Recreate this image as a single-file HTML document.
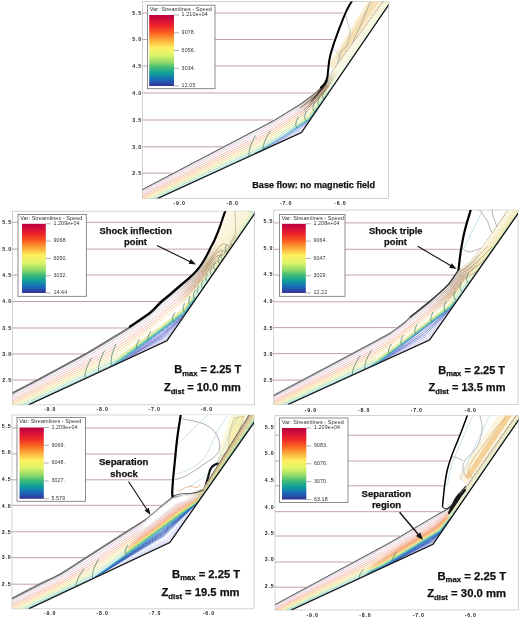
<!DOCTYPE html>
<html><head><meta charset="utf-8"><style>
html,body{margin:0;padding:0;background:#fff;width:520px;height:618px;overflow:hidden;}
svg{display:block;}
.tk{font-family:"Liberation Sans",sans-serif;font-weight:bold;font-size:5.2px;fill:#222;letter-spacing:0.8px;}
.lt{font-family:"Liberation Sans",sans-serif;font-size:5.5px;fill:#333;letter-spacing:0.05px;}
.cl{font-family:"Liberation Sans",sans-serif;font-size:5.3px;fill:#333;letter-spacing:0.12px;}
.ann{font-family:"Liberation Sans",sans-serif;font-weight:bold;fill:#111;stroke:#111;stroke-width:0.25px;}
</style></head><body>
<svg width="520" height="618" viewBox="0 0 520 618">
<defs><linearGradient id="spec" x1="0" y1="0" x2="0" y2="1"><stop offset="0.000" stop-color="#b80040"/><stop offset="0.080" stop-color="#d8103a"/><stop offset="0.160" stop-color="#f02828"/><stop offset="0.250" stop-color="#fa6020"/><stop offset="0.350" stop-color="#fca838"/><stop offset="0.460" stop-color="#fef060"/><stop offset="0.560" stop-color="#e0f468"/><stop offset="0.660" stop-color="#98dc68"/><stop offset="0.740" stop-color="#40bc78"/><stop offset="0.820" stop-color="#10a098"/><stop offset="0.900" stop-color="#1870b8"/><stop offset="0.960" stop-color="#2848a8"/><stop offset="1.000" stop-color="#3a3090"/></linearGradient></defs>
<clipPath id="bT"><polygon points="122.5,188.8 142.5,188.8 200.0,158.5 273.3,120.0 300.0,103.5 314.6,93.0 322.0,86.0 326.0,81.0 327.2,72.0 329.0,58.0 333.0,40.0 340.0,20.0 344.0,12.0 351.5,1.5 351.5,-18.5 408.5,-18.5 408.5,218.5 122.5,218.5"/></clipPath>
<clipPath id="bpT"><polygon points="120.0,216.2 262.0,150.6 310.0,120.0 398.9,-10.0 393.0,-12.0 342.0,58.0 330.0,74.0 324.0,84.0 320.0,88.0 314.6,93.0 300.0,103.5 273.3,120.0 200.0,158.5 142.5,188.8 120.0,200.5"/></clipPath>
<clipPath id="fT"><polygon points="120.0,216.2 301.5,132.5 398.9,-10.0 418.5,-40.0 418.5,-38.5 102.5,-38.5 102.5,216.2"/></clipPath>
<filter id="sbT" x="-20%" y="-20%" width="140%" height="140%"><feGaussianBlur stdDeviation="1.6"/></filter>
<mask id="sT" maskUnits="userSpaceOnUse" x="0" y="0" width="520" height="618"><polygon points="250.0,160.0 262.0,148.0 285.0,136.0 305.0,118.0 315.0,104.0 330.0,110.0 300.0,150.0 260.0,165.0" fill="#fff" filter="url(#sbT)"/></mask>
<linearGradient id="zgT0" gradientUnits="userSpaceOnUse" x1="320.0" y1="90.0" x2="328.0" y2="80.0"><stop offset="0" stop-color="#000"/><stop offset="1" stop-color="#fff"/></linearGradient>
<mask id="zmT0" maskUnits="userSpaceOnUse" x="0" y="0" width="520" height="618"><rect x="0" y="0" width="520" height="618" fill="url(#zgT0)"/></mask>
<radialGradient id="rgT0" gradientUnits="userSpaceOnUse" cx="318.0" cy="95.0" r="30.0"><stop offset="0.3" stop-color="#fff"/><stop offset="1" stop-color="#000"/></radialGradient>
<mask id="rmT0" maskUnits="userSpaceOnUse" x="0" y="0" width="520" height="618"><rect x="0" y="0" width="520" height="618" fill="url(#rgT0)"/></mask>
<clipPath id="cT"><rect x="142.5" y="1.5" width="246.0" height="197.0"/></clipPath>
<rect x="142.5" y="1.5" width="246.0" height="197.0" fill="none" stroke="#c8c8c8" stroke-width="0.8"/>
<text x="141.9" y="14.9" class="tk" text-anchor="end">5.5</text>
<line x1="140.5" y1="13.0" x2="142.5" y2="13.0" stroke="#b0b0b0" stroke-width="0.6"/>
<text x="141.9" y="41.4" class="tk" text-anchor="end">5.0</text>
<line x1="140.5" y1="39.5" x2="142.5" y2="39.5" stroke="#b0b0b0" stroke-width="0.6"/>
<text x="141.9" y="67.9" class="tk" text-anchor="end">4.5</text>
<line x1="140.5" y1="66.0" x2="142.5" y2="66.0" stroke="#b0b0b0" stroke-width="0.6"/>
<text x="141.9" y="94.9" class="tk" text-anchor="end">4.0</text>
<line x1="140.5" y1="93.0" x2="142.5" y2="93.0" stroke="#b0b0b0" stroke-width="0.6"/>
<text x="141.9" y="121.9" class="tk" text-anchor="end">3.5</text>
<line x1="140.5" y1="120.0" x2="142.5" y2="120.0" stroke="#b0b0b0" stroke-width="0.6"/>
<text x="141.9" y="148.7" class="tk" text-anchor="end">3.0</text>
<line x1="140.5" y1="146.8" x2="142.5" y2="146.8" stroke="#b0b0b0" stroke-width="0.6"/>
<text x="141.9" y="175.2" class="tk" text-anchor="end">2.5</text>
<line x1="140.5" y1="173.2" x2="142.5" y2="173.2" stroke="#b0b0b0" stroke-width="0.6"/>
<text x="179.5" y="204.8" class="tk" text-anchor="middle">-9.0</text>
<text x="232.5" y="204.8" class="tk" text-anchor="middle">-8.0</text>
<text x="286.0" y="204.8" class="tk" text-anchor="middle">-7.0</text>
<text x="340.4" y="204.8" class="tk" text-anchor="middle">-6.0</text>
<g clip-path="url(#cT)">
<line x1="142.5" y1="13.0" x2="343.5" y2="13.0" stroke="#c09ca8" stroke-width="0.95"/>
<line x1="142.5" y1="39.5" x2="333.2" y2="39.5" stroke="#c09ca8" stroke-width="0.95"/>
<line x1="142.5" y1="66.0" x2="328.0" y2="66.0" stroke="#c09ca8" stroke-width="0.95"/>
<line x1="142.5" y1="93.0" x2="314.6" y2="93.0" stroke="#c09ca8" stroke-width="0.95"/>
<line x1="142.5" y1="120.0" x2="273.3" y2="120.0" stroke="#c09ca8" stroke-width="0.95"/>
<line x1="142.5" y1="146.8" x2="222.4" y2="146.8" stroke="#c09ca8" stroke-width="0.95"/>
<line x1="142.5" y1="173.2" x2="172.0" y2="173.2" stroke="#c09ca8" stroke-width="0.95"/>
<g clip-path="url(#fT)"><g clip-path="url(#bT)">
<polygon points="336.4,70.8 386.0,-3.5 375.3,-10.9 328.1,65.2" fill="#fbeccc" opacity="0.90"/>
<polygon points="340.1,60.1 383.5,-5.2 377.7,-9.2 336.0,57.3" fill="#f0d49c" opacity="0.60"/>
<polyline points="370.4,1 362,22 352,44 348,55 344,68 338,80" fill="none" stroke="#9a9a90" stroke-width="0.7"/>
<polyline points="345.8,16 350.4,32 347.3,46 341,51 338,62 333,72" fill="none" stroke="#a0a0a0" stroke-width="0.6"/>
<polyline points="333.5,49 338.8,53.8 339.5,62 334,72" fill="none" stroke="#9cc9d9" stroke-width="0.6"/>
<path d="M396.0,-6.2 L330.5,89.3 L309.2,119.5 L261.5,149.7 L140.5,206.0" fill="none" stroke="#6ec3c9" stroke-width="0.90"/>
<path d="M395.5,-6.5 L330.0,88.7 L308.0,118.2 L260.5,148.0 L137.3,206.0" fill="none" stroke="#9dd9b6" stroke-width="0.90"/>
<path d="M394.8,-6.5 L329.1,88.5 L320.5,100.0 L307.0,116.7 L259.5,146.3 L134.5,205.8" fill="none" stroke="#cee8a1" stroke-width="0.90"/>
<path d="M394.2,-6.5 L335.5,77.5 L328.5,88.0 L319.5,99.5 L305.7,115.5 L280.0,131.7 L258.5,144.6 L134.5,204.4" fill="none" stroke="#efe595" stroke-width="0.90"/>
<path d="M393.5,-6.5 L334.8,77.0 L328.0,87.4 L319.0,98.4 L304.5,114.2 L279.0,130.3 L257.5,143.0 L134.5,202.9" fill="none" stroke="#f8d390" stroke-width="0.90"/>
<path d="M392.8,-6.5 L334.1,76.5 L327.5,86.7 L318.4,97.5 L303.2,113.0 L278.5,128.5 L256.5,141.3 L134.5,201.4" fill="none" stroke="#f7c292" stroke-width="0.90"/>
<path d="M392.1,-6.5 L333.4,76.0 L326.7,86.5 L317.5,96.9 L302.0,111.7 L277.5,127.0 L256.0,139.3 L134.5,199.9" fill="none" stroke="#f4b9a2" stroke-width="0.90"/>
<path d="M391.5,-6.5 L332.7,75.5 L326.0,86.0 L317.0,95.9 L301.0,110.2 L276.5,125.6 L255.0,137.6 L134.5,198.4" fill="none" stroke="#f0c3c2" stroke-width="0.90"/>
<path d="M390.8,-6.5 L332.0,75.0 L325.5,85.4 L316.4,95.0 L302.3,107.0 L299.0,109.5 L275.6,124.0 L254.0,135.9 L134.5,196.9" fill="none" stroke="#edd2dc" stroke-width="0.90"/>
<path d="M390.1,-6.5 L331.3,74.5 L325.0,84.8 L315.5,94.4 L301.6,105.5 L274.7,122.5 L253.4,134.0 L134.5,195.4" fill="none" stroke="#d9c9d8" stroke-width="0.90"/>
<path d="M389.4,-6.5 L330.6,74.0 L324.5,84.1 L315.0,93.5 L300.5,104.3 L273.7,121.0 L134.5,193.9" fill="none" stroke="#969696" stroke-width="0.90"/>
<path d="M389.5,-6.5 L330.7,74.0 L324.5,84.2 L315.0,93.6 L300.5,104.4 L273.9,121.0 L134.5,193.9" fill="none" stroke="#7a7a7a" stroke-width="0.70"/>
<path d="M389.2,-6.5 L342.5,58.0 L330.5,73.7 L324.5,84.0 L314.5,93.5 L300.0,104.0 L273.5,120.5 L134.5,193.4" fill="none" stroke="#5a5a5a" stroke-width="0.80"/>
<path d="M311.8,121.2 L310.2,120.2 L309.4,120.8 L301.0,132.2 L262.2,150.5 L263.0,152.5" fill="none" stroke="#c4c8ee" stroke-width="0.80"/>
<path d="M311.8,121.2 L309.8,120.2 L300.5,131.5 L262.2,150.4 L262.2,151.0 L262.9,152.5" fill="none" stroke="#cbcff0" stroke-width="0.80"/>
<path d="M311.8,121.1 L310.2,120.1 L309.8,120.2 L300.0,130.8 L262.2,150.4 L262.1,151.0 L262.9,152.5" fill="none" stroke="#d3d7f4" stroke-width="0.80"/>
<path d="M311.8,121.1 L310.2,120.1 L309.8,120.2 L299.2,130.2 L262.2,150.4 L262.1,151.0 L262.9,152.5" fill="none" stroke="#bbc7ed" stroke-width="0.80"/>
<path d="M311.8,121.1 L310.2,120.1 L309.8,120.2 L298.8,129.4 L262.2,150.3 L262.1,151.0 L262.8,152.5" fill="none" stroke="#9db3e5" stroke-width="0.80"/>
<path d="M311.8,121.1 L310.2,120.1 L309.8,120.1 L298.2,128.7 L262.2,150.3 L262.1,151.0 L262.8,152.5" fill="none" stroke="#8ba6df" stroke-width="0.80"/>
<path d="M311.8,121.0 L309.8,120.1 L287.2,134.7 L262.2,150.3 L262.0,151.0 L262.8,152.5" fill="none" stroke="#7b9ad9" stroke-width="0.80"/>
<g clip-path="url(#bpT)"><g mask="url(#sT)">
<rect x="0" y="0" width="520" height="618" fill="#fff"/>
<path d="M396.0,-6.0 L309.5,120.0 L261.6,150.5 L141.6,206.0" fill="none" stroke="#5895cc" stroke-width="1.00"/>
<path d="M396.0,-6.2 L330.5,89.4 L309.4,119.5 L261.5,149.9 L140.7,206.0" fill="none" stroke="#50a7cc" stroke-width="1.00"/>
<path d="M396.0,-6.4 L330.5,89.1 L309.0,119.2 L261.1,149.5 L139.8,206.0" fill="none" stroke="#5dbac7" stroke-width="1.00"/>
<path d="M395.9,-6.5 L330.0,89.4 L308.5,119.0 L261.0,149.0 L139.0,206.0" fill="none" stroke="#7fccbd" stroke-width="1.00"/>
<path d="M395.7,-6.5 L330.0,89.0 L308.3,118.5 L260.7,148.5 L138.1,206.0" fill="none" stroke="#a1dbb5" stroke-width="1.00"/>
<path d="M395.5,-6.5 L330.0,88.6 L308.0,118.1 L260.5,148.0 L137.2,206.0" fill="none" stroke="#c3e6ae" stroke-width="1.00"/>
<path d="M395.3,-6.5 L329.5,88.9 L307.5,117.9 L260.2,147.5 L136.3,206.0" fill="none" stroke="#e3f0a8" stroke-width="1.00"/>
<path d="M395.1,-6.5 L329.5,88.6 L307.5,117.2 L260.0,147.0 L135.5,206.0" fill="none" stroke="#ececa6" stroke-width="1.00"/>
<path d="M394.9,-6.5 L329.3,88.5 L320.5,100.2 L307.0,117.0 L259.5,146.6 L134.6,206.0" fill="none" stroke="#f5e9a4" stroke-width="1.00"/>
</g></g>
<g clip-path="url(#bpT)"><g mask="url(#zmT0)">
<rect x="0" y="0" width="520" height="618" fill="#ffffff"/>
<path d="M395.8,-6.5 L330.0,89.2 L308.5,118.7 L261.0,148.6 L138.5,206.0" fill="none" stroke="#bbe3c0" stroke-width="0.80"/>
<path d="M394.3,-6.5 L335.6,77.5 L328.7,88.0 L319.7,99.5 L306.0,115.6 L280.2,132.0 L259.0,144.8 L134.5,204.6" fill="none" stroke="#e0f0b0" stroke-width="0.80"/>
<path d="M392.8,-6.5 L334.0,76.5 L327.5,86.6 L318.3,97.5 L303.0,113.0 L278.3,128.5 L256.5,141.1 L134.5,201.3" fill="none" stroke="#ededb0" stroke-width="0.80"/>
<path d="M391.3,-6.5 L332.4,75.5 L326.0,85.7 L316.5,96.0 L300.5,110.0 L276.5,125.0 L254.5,137.3 L134.5,198.0" fill="none" stroke="#f3e9b0" stroke-width="0.80"/>
<path d="M389.8,-6.5 L330.8,74.5 L324.7,84.5 L315.0,94.1 L300.5,105.3 L274.0,121.9 L252.5,133.4 L134.5,194.6" fill="none" stroke="#f1e3b0" stroke-width="0.80"/>
</g></g>
<g clip-path="url(#bpT)"><g mask="url(#rmT0)">
<path d="M393.5,-6.5 L334.8,77.0 L328.0,87.4 L319.0,98.5 L304.5,114.3 L279.0,130.4 L257.6,143.0 L134.5,203.0" fill="none" stroke="#8a7058" stroke-width="0.70"/>
<path d="M392.8,-6.5 L334.0,76.5 L327.5,86.6 L318.3,97.5 L303.0,113.0 L278.3,128.5 L256.5,141.1 L134.5,201.3" fill="none" stroke="#8a7058" stroke-width="0.70"/>
<path d="M392.0,-6.5 L333.2,76.0 L326.9,86.0 L317.5,96.6 L302.0,111.3 L277.0,127.0 L255.5,139.2 L134.5,199.7" fill="none" stroke="#8a7058" stroke-width="0.70"/>
<path d="M391.3,-6.5 L332.4,75.5 L326.0,85.7 L316.5,96.0 L300.5,110.0 L276.5,125.0 L254.5,137.3 L134.5,198.0" fill="none" stroke="#8a7058" stroke-width="0.70"/>
<path d="M390.5,-6.5 L331.6,75.0 L325.4,85.0 L316.0,94.8 L302.0,106.4 L299.0,108.7 L275.5,123.3 L253.5,135.3 L134.5,196.3" fill="none" stroke="#8a7058" stroke-width="0.70"/>
<path d="M389.8,-6.5 L330.8,74.5 L324.7,84.5 L315.0,94.1 L300.5,105.3 L274.0,121.9 L252.5,133.4 L134.5,194.6" fill="none" stroke="#8a7058" stroke-width="0.70"/>
</g></g>
<path d="M249.0,156.4 Q248.2,147.9 255.5,135.5" fill="none" stroke="#3d7a68" stroke-width="0.70"/>
<path d="M263.0,149.5 Q262.8,142.1 270.5,130.7" fill="none" stroke="#3d7a68" stroke-width="0.70"/>
<path d="M297.0,128.0 Q293.8,124.5 298.5,117.0" fill="none" stroke="#3d7a68" stroke-width="0.70"/>
<path d="M307.0,121.5 Q302.7,118.3 306.4,111.0" fill="none" stroke="#3d7a68" stroke-width="0.70"/>
<path d="M315.0,112.0 Q311.0,109.0 314.9,102.0" fill="none" stroke="#3d7a68" stroke-width="0.70"/>
<path d="M319.5,105.5 Q315.7,103.0 319.9,96.5" fill="none" stroke="#3d7a68" stroke-width="0.70"/>
<path d="M324.0,99.0 Q320.5,96.8 325.0,90.5" fill="none" stroke="#3d7a68" stroke-width="0.70"/>
</g></g>
<path d="M329,79 Q324,90 309,104 Q318,92 324.5,83 Z" fill="#2a2418" opacity="0.9"/>
<path d="M327,84 Q318,95 300,108" fill="none" stroke="#5a4a3a" stroke-width="0.7"/>
<path d="M328,86 Q320,97 304,110" fill="none" stroke="#7a6a50" stroke-width="0.6"/>
<polyline points="157.5,198.5 301.5,132.5 390.0,3.0" fill="none" stroke="#111" stroke-width="1.3" stroke-linejoin="miter"/>
<path d="M352.5,0.0 C351.4,2.1 347.9,7.7 345.8,12.3 C343.7,16.9 341.7,22.3 339.6,27.7 C337.6,33.1 335.2,39.5 333.5,44.6 C331.8,49.7 330.5,54.1 329.6,58.5 C328.7,62.9 328.5,67.5 328.1,70.8 C327.7,74.0 327.7,76.0 327.2,78.0 C326.7,80.0 326.0,81.4 325.0,83.0 C324.0,84.6 321.7,86.8 321.0,87.5" fill="none" stroke="#000" stroke-width="2.0" stroke-linecap="round"/>
</g>
<rect x="147.5" y="5.2" width="67.5" height="83.5" fill="#fff" stroke="#707070" stroke-width="0.8"/>
<rect x="149.2" y="15.0" width="24.8" height="71.0" fill="url(#spec)"/>
<text x="149.7" y="10.9" class="lt">Var: Streamlines - Speed</text>
<line x1="174.0" y1="15.0" x2="179.0" y2="15.0" stroke="#777" stroke-width="0.6"/>
<text x="181.6" y="16.2" class="cl">1.210e+04</text>
<line x1="174.0" y1="32.8" x2="179.0" y2="32.8" stroke="#777" stroke-width="0.6"/>
<text x="181.6" y="34.0" class="cl">9078.</text>
<line x1="174.0" y1="50.5" x2="179.0" y2="50.5" stroke="#777" stroke-width="0.6"/>
<text x="181.6" y="51.7" class="cl">6056.</text>
<line x1="174.0" y1="68.2" x2="179.0" y2="68.2" stroke="#777" stroke-width="0.6"/>
<text x="181.6" y="69.5" class="cl">3034.</text>
<line x1="174.0" y1="86.0" x2="179.0" y2="86.0" stroke="#777" stroke-width="0.6"/>
<text x="181.6" y="87.2" class="cl">12.05</text>
<text x="252.3" y="187.8" class="ann" style="font-size:9.1px">Base flow: no magnetic field</text>
<clipPath id="bML"><polygon points="-7.5,392.5 12.5,392.5 37.5,379.5 85.0,353.8 113.8,336.5 130.0,326.5 150.1,312.7 160.2,302.6 168.9,295.4 180.4,285.3 189.1,278.1 196.3,270.9 202.0,263.7 206.5,256.0 210.5,248.0 214.6,240.0 220.2,225.8 225.0,211.6 228.0,204.0 228.0,191.2 274.5,191.2 274.5,424.8 -7.5,424.8"/></clipPath>
<clipPath id="bpML"><polygon points="-10.0,422.7 120.0,362.5 186.4,313.0 255.0,213.5 228.0,204.0 225.0,211.6 220.2,225.8 214.6,240.0 210.5,248.0 206.5,256.0 202.0,263.7 196.3,270.9 189.1,278.1 180.4,285.3 168.9,295.4 160.2,302.6 150.1,312.7 130.0,326.5 113.8,336.5 85.0,353.8 37.5,379.5 12.5,392.5 -10.0,404.5"/></clipPath>
<clipPath id="fML"><polygon points="-10.0,422.7 166.9,340.8 255.0,213.5 284.5,183.5 284.5,171.2 -27.5,171.2 -27.5,422.7"/></clipPath>
<filter id="sbML" x="-20%" y="-20%" width="140%" height="140%"><feGaussianBlur stdDeviation="1.6"/></filter>
<mask id="sML" maskUnits="userSpaceOnUse" x="0" y="0" width="520" height="618"><polygon points="108.0,372.0 120.0,355.0 150.0,330.0 180.0,305.0 195.0,295.0 200.0,320.0 160.0,360.0 120.0,380.0" fill="#fff" filter="url(#sbML)"/></mask>
<linearGradient id="zgML0" gradientUnits="userSpaceOnUse" x1="196.0" y1="272.0" x2="204.0" y2="261.0"><stop offset="0" stop-color="#000"/><stop offset="1" stop-color="#fff"/></linearGradient>
<mask id="zmML0" maskUnits="userSpaceOnUse" x="0" y="0" width="520" height="618"><rect x="0" y="0" width="520" height="618" fill="url(#zgML0)"/></mask>
<radialGradient id="rgML0" gradientUnits="userSpaceOnUse" cx="200.0" cy="275.0" r="38.0"><stop offset="0.3" stop-color="#fff"/><stop offset="1" stop-color="#000"/></radialGradient>
<mask id="rmML0" maskUnits="userSpaceOnUse" x="0" y="0" width="520" height="618"><rect x="0" y="0" width="520" height="618" fill="url(#rgML0)"/></mask>
<clipPath id="cML"><rect x="12.5" y="211.2" width="242.0" height="193.6"/></clipPath>
<rect x="12.5" y="211.2" width="242.0" height="193.6" fill="none" stroke="#c8c8c8" stroke-width="0.8"/>
<text x="11.9" y="223.9" class="tk" text-anchor="end">5.5</text>
<line x1="10.5" y1="222.0" x2="12.5" y2="222.0" stroke="#b0b0b0" stroke-width="0.6"/>
<text x="11.9" y="250.5" class="tk" text-anchor="end">5.0</text>
<line x1="10.5" y1="248.6" x2="12.5" y2="248.6" stroke="#b0b0b0" stroke-width="0.6"/>
<text x="11.9" y="276.9" class="tk" text-anchor="end">4.5</text>
<line x1="10.5" y1="275.0" x2="12.5" y2="275.0" stroke="#b0b0b0" stroke-width="0.6"/>
<text x="11.9" y="303.4" class="tk" text-anchor="end">4.0</text>
<line x1="10.5" y1="301.5" x2="12.5" y2="301.5" stroke="#b0b0b0" stroke-width="0.6"/>
<text x="11.9" y="329.9" class="tk" text-anchor="end">3.5</text>
<line x1="10.5" y1="328.0" x2="12.5" y2="328.0" stroke="#b0b0b0" stroke-width="0.6"/>
<text x="11.9" y="355.9" class="tk" text-anchor="end">3.0</text>
<line x1="10.5" y1="354.0" x2="12.5" y2="354.0" stroke="#b0b0b0" stroke-width="0.6"/>
<text x="11.9" y="381.9" class="tk" text-anchor="end">2.5</text>
<line x1="10.5" y1="380.0" x2="12.5" y2="380.0" stroke="#b0b0b0" stroke-width="0.6"/>
<text x="50.0" y="410.8" class="tk" text-anchor="middle">-9.0</text>
<text x="102.5" y="410.8" class="tk" text-anchor="middle">-8.0</text>
<text x="154.5" y="410.8" class="tk" text-anchor="middle">-7.0</text>
<text x="206.8" y="410.8" class="tk" text-anchor="middle">-6.0</text>
<g clip-path="url(#cML)">
<line x1="12.5" y1="222.3" x2="221.4" y2="222.3" stroke="#c09ca8" stroke-width="0.95"/>
<line x1="12.5" y1="249.1" x2="209.9" y2="249.1" stroke="#c09ca8" stroke-width="0.95"/>
<line x1="12.5" y1="275.0" x2="192.2" y2="275.0" stroke="#c09ca8" stroke-width="0.95"/>
<line x1="12.5" y1="301.5" x2="161.5" y2="301.5" stroke="#c09ca8" stroke-width="0.95"/>
<line x1="12.5" y1="328.0" x2="127.6" y2="328.0" stroke="#c09ca8" stroke-width="0.95"/>
<line x1="12.5" y1="354.0" x2="84.5" y2="354.0" stroke="#c09ca8" stroke-width="0.95"/>
<line x1="12.5" y1="380.0" x2="36.5" y2="380.0" stroke="#c09ca8" stroke-width="0.95"/>
<g clip-path="url(#fML)"><g clip-path="url(#bML)">
<polyline points="234.9,211 235.7,232.7 230.6,242.2 226,250" fill="none" stroke="#a09a80" stroke-width="0.6"/>
<path d="M243.4,203.2 L242.9,205.7 L241.4,208.2 L241.5,208.9 L242.5,208.9 L243.0,209.4 L247.0,210.5 L248.5,211.5 L249.5,211.5 L250.0,212.0 L251.0,212.1 L251.5,212.6 L253.6,213.2 L214.0,271.7 L185.5,312.3 L119.5,361.4 L9.7,412.7" fill="none" stroke="#6ec3c9" stroke-width="0.90"/>
<path d="M243.4,203.2 L242.9,205.7 L241.3,208.7 L242.5,209.0 L243.0,209.5 L244.0,209.5 L244.5,210.0 L245.5,210.0 L246.0,210.5 L247.0,210.5 L248.5,211.6 L251.0,212.2 L251.0,212.6 L229.4,246.2 L213.1,270.7 L183.9,310.7 L161.1,328.2 L118.0,359.6 L6.1,412.7" fill="none" stroke="#9dd9b6" stroke-width="0.90"/>
<path d="M243.3,203.2 L242.8,205.7 L241.2,208.7 L242.5,209.0 L243.0,209.5 L244.0,209.6 L244.5,210.1 L245.5,210.1 L246.0,210.6 L247.0,210.6 L248.5,211.7 L227.7,245.7 L211.8,270.2 L198.6,288.2 L182.2,309.2 L160.0,326.5 L117.0,357.6 L4.5,411.8" fill="none" stroke="#cee8a1" stroke-width="0.90"/>
<path d="M243.3,203.2 L242.8,205.7 L241.1,208.7 L243.0,209.6 L244.0,209.6 L244.5,210.1 L245.5,210.2 L246.1,210.7 L226.1,245.2 L211.0,268.9 L204.7,277.7 L180.5,307.7 L159.0,324.8 L116.0,355.5 L92.5,367.4 L4.5,410.0" fill="none" stroke="#efe595" stroke-width="0.90"/>
<path d="M243.3,203.2 L242.8,205.7 L241.1,208.7 L241.5,209.1 L243.8,209.7 L224.8,244.2 L214.7,260.7 L209.5,268.7 L203.0,277.6 L179.0,306.0 L157.9,323.2 L137.5,337.9 L114.5,353.7 L91.5,365.6 L4.5,408.3" fill="none" stroke="#f8d390" stroke-width="0.90"/>
<path d="M243.3,203.2 L242.8,205.7 L241.0,208.7 L241.1,209.2 L223.4,243.2 L208.5,267.7 L202.3,276.2 L195.5,284.4 L177.1,304.7 L168.5,311.5 L156.6,321.7 L136.3,336.2 L113.5,351.6 L90.5,363.8 L4.5,406.6" fill="none" stroke="#f7c292" stroke-width="0.90"/>
<path d="M243.2,203.2 L242.7,205.7 L241.0,208.6 L238.8,208.2 L221.5,243.2 L207.2,267.2 L201.2,275.2 L194.4,283.2 L175.5,303.2 L167.0,309.9 L155.5,320.0 L135.0,334.6 L112.5,349.6 L89.5,362.0 L4.5,404.9" fill="none" stroke="#f4b9a2" stroke-width="0.90"/>
<path d="M243.2,203.2 L242.7,205.7 L241.0,208.6 L240.0,208.6 L238.5,207.6 L236.5,207.2 L219.9,242.7 L206.2,266.2 L200.5,273.8 L193.0,282.3 L174.4,301.2 L165.5,308.4 L155.0,317.9 L134.0,332.8 L111.0,347.8 L88.5,360.2 L4.5,403.1" fill="none" stroke="#f0c3c2" stroke-width="0.90"/>
<path d="M243.2,203.2 L242.7,205.7 L241.0,208.5 L240.0,208.5 L238.5,207.6 L236.0,207.1 L235.5,206.6 L234.0,206.6 L218.6,241.7 L209.8,257.7 L205.3,265.2 L199.2,273.2 L191.9,281.2 L172.7,299.7 L164.0,306.8 L153.5,316.6 L133.0,331.0 L110.0,345.7 L87.5,358.5 L4.5,401.4" fill="none" stroke="#edd2dc" stroke-width="0.90"/>
<path d="M243.1,203.2 L242.6,205.7 L241.0,208.4 L240.0,208.5 L238.5,207.5 L237.5,207.5 L235.5,206.6 L231.6,205.7 L223.2,226.7 L217.0,241.2 L208.5,257.1 L204.0,264.7 L198.2,272.2 L190.6,280.2 L171.1,298.2 L162.5,305.2 L152.1,315.2 L131.9,329.2 L116.0,339.3 L87.0,356.4 L39.0,381.9 L4.5,399.6" fill="none" stroke="#d9c9d8" stroke-width="0.90"/>
<path d="M243.1,203.2 L242.6,205.7 L241.0,208.4 L240.0,208.4 L238.5,207.4 L237.5,207.4 L237.0,206.9 L236.0,207.0 L235.5,206.5 L234.5,206.5 L234.0,206.0 L233.0,206.0 L232.5,205.5 L231.5,205.6 L229.4,204.7 L221.3,226.2 L215.6,240.2 L207.4,256.2 L202.7,264.2 L197.0,271.4 L189.9,278.7 L169.5,296.7 L161.0,303.7 L150.8,313.7 L130.5,327.7 L108.0,341.6 L85.8,354.7 L38.0,380.4 L4.5,397.9" fill="none" stroke="#969696" stroke-width="0.90"/>
<path d="M243.1,203.2 L242.6,205.7 L241.0,208.4 L240.0,208.4 L238.5,207.4 L237.5,207.4 L237.0,206.9 L236.0,207.0 L235.5,206.5 L234.5,206.5 L234.0,206.0 L233.0,206.0 L232.5,205.5 L231.5,205.6 L229.5,204.7 L221.4,226.2 L215.7,240.2 L207.5,256.2 L202.7,264.2 L197.0,271.5 L190.0,278.7 L169.6,296.7 L161.1,303.7 L151.0,313.7 L130.5,327.8 L108.0,341.7 L86.0,354.7 L38.0,380.5 L4.5,398.0" fill="none" stroke="#7a7a7a" stroke-width="0.70"/>
<path d="M243.1,203.2 L242.6,205.7 L241.0,208.4 L240.0,208.4 L238.5,207.4 L237.5,207.4 L237.0,206.9 L233.0,206.0 L232.5,205.5 L228.5,204.6 L220.6,226.2 L215.0,240.2 L206.8,256.2 L202.5,263.7 L196.6,271.2 L189.5,278.3 L160.5,303.1 L150.5,313.1 L130.0,327.2 L85.5,354.1 L38.0,379.8 L4.5,397.3" fill="none" stroke="#5a5a5a" stroke-width="0.80"/>
<path d="M188.2,314.5 L186.8,313.2 L186.2,313.2 L166.5,340.4 L120.0,362.5 L121.0,364.2" fill="none" stroke="#aeaee3" stroke-width="0.80"/>
<path d="M188.2,314.4 L186.8,313.2 L186.2,313.2 L165.8,339.6 L120.0,362.5 L120.9,364.2" fill="none" stroke="#bbbbea" stroke-width="0.80"/>
<path d="M188.2,314.4 L186.8,313.2 L186.2,313.2 L165.1,338.8 L120.0,362.4 L120.9,364.2" fill="none" stroke="#c8c8f0" stroke-width="0.80"/>
<path d="M188.2,314.4 L186.8,313.2 L186.2,313.2 L164.5,337.8 L120.0,362.4 L120.9,364.2" fill="none" stroke="#a8a8e4" stroke-width="0.80"/>
<path d="M188.2,314.4 L186.8,313.1 L186.2,313.1 L163.8,337.1 L120.0,362.4 L120.9,364.2" fill="none" stroke="#8888d8" stroke-width="0.80"/>
<path d="M188.2,314.4 L186.8,313.1 L186.2,313.1 L163.1,336.2 L120.0,362.4 L120.9,364.2" fill="none" stroke="#7478d0" stroke-width="0.80"/>
<path d="M188.2,314.3 L186.8,313.1 L186.2,313.1 L162.5,335.3 L120.0,362.4 L120.8,364.2" fill="none" stroke="#6068c8" stroke-width="0.80"/>
<path d="M188.2,314.3 L186.8,313.1 L186.2,313.1 L161.8,334.6 L120.0,362.3 L120.8,364.2" fill="none" stroke="#7880d2" stroke-width="0.80"/>
<path d="M188.2,314.3 L186.8,313.1 L186.2,313.1 L161.0,333.9 L120.0,362.3 L120.8,364.2" fill="none" stroke="#9098dc" stroke-width="0.80"/>
<path d="M188.2,314.3 L186.8,313.0 L186.2,313.0 L160.4,333.0 L120.0,362.3 L119.8,362.5 L120.8,364.2" fill="none" stroke="#7b83d1" stroke-width="0.80"/>
<g clip-path="url(#bpML)"><g mask="url(#sML)">
<rect x="0" y="0" width="520" height="618" fill="#fff"/>
<path d="M243.4,203.2 L242.9,205.7 L241.4,208.2 L241.5,208.9 L242.5,208.9 L243.0,209.4 L247.0,210.4 L248.5,211.4 L249.5,211.5 L250.0,212.0 L252.5,212.6 L253.0,213.1 L254.0,213.2 L254.4,213.7 L186.0,312.9 L119.8,362.2 L11.1,412.7" fill="none" stroke="#4c8ac8" stroke-width="1.00"/>
<path d="M243.4,203.2 L242.9,205.7 L241.4,208.2 L241.5,208.9 L245.5,209.9 L248.5,211.5 L249.5,211.5 L250.0,212.0 L251.0,212.0 L251.5,212.6 L253.9,213.2 L214.2,271.7 L185.5,312.5 L119.5,361.7 L10.0,412.7" fill="none" stroke="#449ec8" stroke-width="1.00"/>
<path d="M243.4,203.2 L242.9,205.7 L241.3,208.7 L244.0,209.4 L244.5,209.9 L245.5,209.9 L246.0,210.5 L247.0,210.5 L248.5,211.5 L251.0,212.1 L253.0,213.2 L213.7,271.7 L185.0,312.1 L119.0,361.2 L9.0,412.7" fill="none" stroke="#4cb0c0" stroke-width="1.00"/>
<path d="M243.4,203.2 L242.9,205.7 L241.3,208.7 L242.5,208.9 L243.0,209.4 L244.0,209.4 L244.5,210.0 L245.5,210.0 L246.0,210.5 L247.0,210.5 L248.5,211.5 L251.0,212.1 L251.5,212.7 L252.5,212.7 L213.6,271.2 L184.5,311.7 L162.0,328.8 L119.0,360.5 L8.0,412.7" fill="none" stroke="#64c0b0" stroke-width="1.00"/>
<path d="M243.4,203.2 L242.9,205.7 L241.3,208.7 L242.5,208.9 L243.0,209.4 L244.0,209.5 L244.5,210.0 L245.5,210.0 L246.0,210.5 L247.0,210.5 L248.5,211.6 L249.5,211.6 L251.7,212.7 L229.6,246.7 L213.1,271.2 L184.2,311.2 L161.5,328.5 L118.5,360.0 L7.0,412.7" fill="none" stroke="#84d0a6" stroke-width="1.00"/>
<path d="M243.4,203.2 L242.9,205.7 L241.3,208.7 L242.5,209.0 L243.0,209.5 L244.0,209.5 L244.5,210.0 L245.5,210.0 L246.0,210.5 L247.0,210.5 L248.5,211.6 L249.5,211.6 L251.0,212.4 L229.4,246.2 L213.0,270.7 L183.8,310.7 L161.0,328.2 L118.0,359.6 L6.0,412.7" fill="none" stroke="#acdea3" stroke-width="1.00"/>
<path d="M243.4,203.2 L242.9,205.7 L241.2,208.7 L242.5,209.0 L243.0,209.5 L244.0,209.5 L244.5,210.0 L245.5,210.0 L246.0,210.5 L247.0,210.6 L248.5,211.6 L249.5,211.7 L250.3,212.2 L228.8,246.2 L212.6,270.7 L199.5,288.9 L183.4,310.2 L161.0,327.5 L118.0,358.8 L5.0,412.7" fill="none" stroke="#d2eca0" stroke-width="1.00"/>
<path d="M243.4,203.2 L242.9,205.7 L241.2,208.7 L242.5,209.0 L243.0,209.5 L244.0,209.5 L244.5,210.0 L245.5,210.1 L246.0,210.6 L247.0,210.6 L248.5,211.7 L249.5,211.7 L249.5,212.1 L228.3,246.2 L212.5,270.2 L199.1,288.7 L183.0,309.7 L160.5,327.2 L117.5,358.4 L4.5,412.5" fill="none" stroke="#e2eaa0" stroke-width="1.00"/>
<path d="M243.4,203.2 L242.9,205.7 L241.2,208.7 L242.5,209.0 L243.0,209.5 L244.0,209.5 L244.5,210.1 L245.5,210.1 L246.0,210.6 L247.0,210.6 L248.9,211.7 L228.0,245.7 L212.0,270.2 L199.0,288.1 L182.5,309.4 L160.2,326.7 L117.0,357.9 L4.5,412.0" fill="none" stroke="#f3e8a0" stroke-width="1.00"/>
</g></g>
<g clip-path="url(#bpML)"><g mask="url(#zmML0)">
<rect x="0" y="0" width="520" height="618" fill="#fffcf4"/>
<path d="M243.4,203.2 L242.9,205.7 L241.4,208.2 L241.5,208.9 L242.5,208.9 L243.0,209.4 L247.0,210.4 L248.5,211.5 L249.5,211.5 L250.0,212.0 L251.0,212.0 L251.5,212.6 L254.0,213.2 L254.0,213.7 L214.1,272.2 L185.8,312.7 L119.5,362.0 L10.6,412.7" fill="none" stroke="#87ccbe" stroke-width="0.80"/>
<path d="M243.4,203.2 L242.9,205.7 L241.3,208.7 L242.5,208.9 L243.0,209.4 L244.0,209.4 L244.5,209.9 L245.5,210.0 L246.0,210.5 L247.0,210.5 L248.5,211.5 L249.5,211.5 L250.0,212.1 L252.5,212.7 L252.6,213.2 L213.8,271.2 L185.0,311.7 L119.0,360.8 L8.5,412.7" fill="none" stroke="#b6e0ae" stroke-width="0.80"/>
<path d="M243.4,203.2 L242.9,205.7 L241.3,208.7 L242.5,208.9 L243.0,209.5 L244.0,209.5 L244.5,210.0 L245.5,210.0 L246.0,210.5 L247.0,210.5 L248.5,211.6 L251.0,212.2 L251.2,212.7 L229.3,246.7 L213.0,271.1 L184.0,310.9 L161.5,328.1 L118.4,359.7 L6.5,412.7" fill="none" stroke="#e1eca9" stroke-width="0.80"/>
<path d="M243.4,203.2 L242.9,205.7 L241.2,208.7 L242.5,209.0 L243.0,209.5 L244.0,209.5 L244.5,210.0 L245.5,210.0 L246.0,210.6 L247.0,210.6 L248.5,211.6 L249.5,211.7 L249.9,212.2 L228.5,246.2 L212.5,270.5 L199.5,288.5 L183.0,310.1 L160.9,327.2 L117.6,358.7 L4.5,412.7" fill="none" stroke="#eee9b3" stroke-width="0.80"/>
<path d="M243.3,203.2 L242.8,205.7 L241.2,208.7 L242.5,209.0 L243.0,209.5 L244.0,209.6 L244.5,210.1 L245.5,210.1 L246.0,210.6 L247.0,210.6 L248.5,211.7 L227.7,245.7 L211.8,270.2 L198.6,288.2 L182.2,309.2 L160.0,326.5 L117.0,357.6 L4.5,411.8" fill="none" stroke="#f4e8b9" stroke-width="0.80"/>
<path d="M243.3,203.2 L242.8,205.7 L241.2,208.7 L243.0,209.6 L244.0,209.6 L244.5,210.1 L245.5,210.1 L246.0,210.7 L247.0,210.7 L247.2,211.2 L235.4,231.2 L226.7,245.7 L210.8,270.2 L198.0,287.5 L181.5,308.2 L159.5,325.5 L116.5,356.4 L92.8,368.2 L4.5,410.8" fill="none" stroke="#f5e9bc" stroke-width="0.80"/>
<path d="M243.3,203.2 L242.8,205.7 L241.1,208.7 L243.0,209.6 L244.0,209.6 L244.5,210.2 L245.5,210.2 L245.8,210.7 L225.9,245.2 L210.9,268.7 L204.5,277.7 L180.5,307.4 L158.8,324.7 L115.5,355.5 L92.3,367.2 L4.5,409.9" fill="none" stroke="#f5eabf" stroke-width="0.80"/>
<path d="M243.3,203.2 L242.8,205.7 L241.1,208.7 L243.0,209.7 L244.0,209.7 L244.5,210.2 L224.8,245.2 L210.0,268.7 L203.9,277.2 L196.5,286.5 L179.5,306.6 L158.3,323.7 L138.0,338.4 L115.0,354.3 L91.8,366.2 L4.5,408.9" fill="none" stroke="#f6ebc1" stroke-width="0.80"/>
<path d="M243.3,203.2 L242.8,205.7 L241.1,208.7 L243.1,209.7 L224.3,244.2 L214.5,260.4 L209.1,268.7 L202.9,277.2 L196.0,285.7 L178.5,305.8 L157.5,322.9 L137.0,337.7 L114.5,353.1 L91.2,365.2 L4.5,407.9" fill="none" stroke="#f7ecc4" stroke-width="0.80"/>
<path d="M243.3,203.2 L242.8,205.7 L241.0,208.7 L241.8,209.2 L231.1,229.7 L223.3,244.2 L208.9,267.7 L202.5,276.4 L195.5,284.9 L177.5,305.0 L168.5,312.1 L157.0,321.9 L136.5,336.6 L113.5,352.2 L90.5,364.3 L4.5,407.0" fill="none" stroke="#f7edc6" stroke-width="0.80"/>
<path d="M243.2,203.2 L243.2,204.2 L242.7,204.7 L242.7,205.7 L241.7,207.7 L241.0,208.7 L240.4,208.7 L222.5,243.7 L208.0,267.7 L202.0,275.8 L195.0,284.1 L176.6,304.2 L168.0,311.0 L156.1,321.2 L136.0,335.6 L113.0,351.0 L90.0,363.3 L4.5,406.0" fill="none" stroke="#f8eec9" stroke-width="0.80"/>
<path d="M243.2,203.2 L242.7,205.7 L241.0,208.7 L240.0,208.7 L239.1,208.2 L221.7,243.2 L207.4,267.2 L201.4,275.2 L194.5,283.3 L175.9,303.2 L167.0,310.2 L155.5,320.3 L135.2,334.7 L112.5,349.9 L89.5,362.3 L4.5,405.1" fill="none" stroke="#f8efcc" stroke-width="0.80"/>
<path d="M243.2,203.2 L242.7,205.7 L241.0,208.6 L240.0,208.6 L238.5,207.7 L237.8,207.7 L220.7,243.2 L207.0,266.4 L201.0,274.5 L193.5,283.1 L175.1,302.2 L166.4,309.2 L155.5,318.9 L134.5,333.8 L111.5,349.0 L89.0,361.2 L4.5,404.1" fill="none" stroke="#f9efce" stroke-width="0.80"/>
<path d="M243.2,203.2 L242.7,205.7 L241.0,208.6 L240.0,208.6 L238.5,207.6 L236.5,207.2 L219.9,242.7 L206.2,266.2 L200.5,273.8 L193.0,282.3 L174.4,301.2 L165.5,308.4 L155.0,317.9 L134.0,332.8 L111.0,347.8 L88.5,360.2 L4.5,403.1" fill="none" stroke="#f9f0d1" stroke-width="0.80"/>
<path d="M243.2,203.2 L242.7,205.7 L241.0,208.5 L240.0,208.6 L238.5,207.6 L237.5,207.6 L237.0,207.1 L236.0,207.2 L235.2,206.7 L219.1,242.2 L210.3,258.2 L205.7,265.7 L199.6,273.7 L192.4,281.7 L173.5,300.3 L164.5,307.6 L154.0,317.3 L133.5,331.7 L110.3,346.7 L88.0,359.2 L4.5,402.2" fill="none" stroke="#faf1d4" stroke-width="0.80"/>
<path d="M243.2,203.2 L242.7,205.7 L241.0,208.5 L240.0,208.5 L238.5,207.6 L237.5,207.6 L237.0,207.1 L236.0,207.1 L233.9,206.2 L218.3,241.7 L209.6,257.7 L205.1,265.2 L199.0,273.2 L191.6,281.2 L172.5,299.6 L163.7,306.7 L153.5,316.3 L133.0,330.7 L109.5,345.7 L87.5,358.2 L39.5,383.3 L4.5,401.2" fill="none" stroke="#faf2d6" stroke-width="0.80"/>
<path d="M243.1,203.2 L242.6,205.7 L241.0,208.5 L240.0,208.5 L238.5,207.5 L237.5,207.5 L237.0,207.0 L236.0,207.1 L235.5,206.6 L234.5,206.6 L234.0,206.1 L232.5,205.8 L223.7,227.2 L217.5,241.3 L209.0,257.2 L204.5,264.7 L198.5,272.6 L191.0,280.6 L171.6,298.7 L163.0,305.7 L152.5,315.7 L132.0,330.0 L116.0,340.2 L87.0,357.2 L39.0,382.5 L4.5,400.2" fill="none" stroke="#fbf3d9" stroke-width="0.80"/>
<path d="M243.1,203.2 L242.6,205.7 L241.0,208.4 L240.0,208.4 L238.5,207.5 L237.5,207.5 L237.0,207.0 L233.0,206.1 L232.5,205.6 L231.0,205.7 L222.8,226.7 L216.5,241.2 L208.4,256.7 L203.6,264.7 L197.8,272.2 L190.5,279.8 L170.9,297.7 L162.0,305.0 L152.0,314.7 L131.0,329.3 L108.5,343.4 L86.5,356.2 L38.5,381.7 L4.5,399.2" fill="none" stroke="#fcf4db" stroke-width="0.80"/>
<path d="M243.1,203.2 L242.6,205.7 L241.0,208.4 L240.0,208.4 L238.5,207.4 L237.5,207.4 L237.0,207.0 L236.0,207.0 L235.5,206.5 L234.5,206.5 L234.0,206.0 L231.5,205.6 L231.0,205.1 L229.7,205.2 L221.8,226.2 L215.8,240.7 L207.5,256.6 L203.0,264.2 L197.2,271.7 L190.0,279.1 L170.0,296.9 L161.5,303.9 L151.0,314.1 L130.5,328.2 L108.0,342.2 L86.0,355.1 L38.3,380.7 L4.5,398.2" fill="none" stroke="#fcf5de" stroke-width="0.80"/>
<path d="M243.1,203.2 L242.6,205.7 L241.0,208.4 L240.0,208.4 L238.5,207.4 L237.5,207.4 L237.0,206.9 L233.0,206.0 L232.5,205.5 L228.5,204.6 L220.6,226.2 L215.0,240.2 L206.8,256.2 L202.5,263.7 L196.6,271.2 L189.5,278.3 L160.5,303.1 L150.5,313.1 L130.0,327.2 L85.5,354.1 L38.0,379.8 L4.5,397.3" fill="none" stroke="#fdf6e1" stroke-width="0.80"/>
<path d="M192.0,282.0 C194.2,279.3 201.3,270.7 205.0,266.0 C208.7,261.3 211.5,257.3 214.0,254.0 C216.5,250.7 218.3,247.7 220.0,246.0 C221.7,244.3 222.5,244.0 224.0,244.0 C225.5,244.0 228.2,245.7 229.0,246.0" fill="none" stroke="#b09068" stroke-width="0.7"/>
<path d="M190.0,286.0 C192.3,283.3 200.3,274.5 204.0,270.0 C207.7,265.5 209.7,262.0 212.0,259.0 C214.3,256.0 216.3,253.5 218.0,252.0 C219.7,250.5 220.7,250.0 222.0,250.0 C223.3,250.0 224.3,253.0 226.0,252.0 C227.7,251.0 231.0,245.3 232.0,244.0" fill="none" stroke="#b09068" stroke-width="0.7"/>
<path d="M188.0,290.0 C190.3,287.3 198.2,278.5 202.0,274.0 C205.8,269.5 208.5,266.0 211.0,263.0 C213.5,260.0 215.0,257.3 217.0,256.0 C219.0,254.7 221.2,256.3 223.0,255.0 C224.8,253.7 225.8,251.2 228.0,248.0 C230.2,244.8 234.7,238.0 236.0,236.0" fill="none" stroke="#b09068" stroke-width="0.7"/>
<path d="M198.0,282.0 C199.7,280.0 205.0,273.3 208.0,270.0 C211.0,266.7 213.0,264.0 216.0,262.0 C219.0,260.0 223.3,260.0 226.0,258.0 C228.7,256.0 229.7,253.0 232.0,250.0 C234.3,247.0 238.7,241.7 240.0,240.0" fill="none" stroke="#b09068" stroke-width="0.7"/>
<polyline points="234.9,205 235.7,232.7 230.6,242.2 232,250 240,246" fill="none" stroke="#a8a090" stroke-width="0.6"/>
</g></g>
<g clip-path="url(#bpML)"><g mask="url(#rmML0)">
<path d="M243.3,203.2 L242.8,205.7 L241.1,208.7 L243.0,209.7 L244.0,209.7 L244.3,210.2 L225.3,244.2 L215.4,260.2 L209.6,269.2 L203.5,277.6 L179.5,306.4 L158.1,323.7 L137.5,338.6 L115.0,354.2 L91.5,366.2 L4.5,408.8" fill="none" stroke="#a88a68" stroke-width="0.70"/>
<path d="M243.3,203.2 L242.8,205.7 L241.0,208.7 L241.5,209.2 L242.3,209.2 L231.5,229.7 L223.6,244.2 L209.2,267.7 L202.6,276.7 L196.0,284.7 L177.9,305.2 L157.0,322.3 L136.5,337.0 L114.0,352.4 L91.0,364.4 L4.5,407.3" fill="none" stroke="#a88a68" stroke-width="0.70"/>
<path d="M243.2,203.2 L243.2,204.2 L242.7,204.7 L242.7,205.7 L241.7,207.7 L241.0,208.7 L240.0,208.7 L222.4,243.2 L208.0,267.2 L201.8,275.7 L195.0,283.7 L176.5,303.8 L167.5,310.9 L156.0,320.9 L135.5,335.5 L113.0,350.6 L90.0,362.9 L4.5,405.7" fill="none" stroke="#a88a68" stroke-width="0.70"/>
<path d="M243.2,203.2 L242.7,205.7 L241.0,208.6 L240.0,208.6 L238.0,207.7 L220.8,243.2 L207.0,266.6 L201.0,274.6 L193.5,283.2 L175.3,302.2 L166.5,309.2 L155.5,319.1 L134.5,334.0 L111.5,349.1 L89.0,361.4 L4.5,404.2" fill="none" stroke="#a88a68" stroke-width="0.70"/>
<path d="M243.2,203.2 L242.7,205.7 L241.0,208.6 L240.0,208.6 L237.0,207.2 L235.7,207.2 L219.6,242.2 L210.7,258.2 L206.0,265.9 L200.0,273.8 L192.5,282.2 L174.0,300.7 L165.0,308.0 L154.5,317.6 L133.8,332.2 L110.5,347.3 L88.0,359.9 L4.5,402.6" fill="none" stroke="#a88a68" stroke-width="0.70"/>
<path d="M243.2,203.2 L242.7,205.7 L241.0,208.5 L240.0,208.5 L238.5,207.6 L237.5,207.6 L237.0,207.1 L236.0,207.1 L235.5,206.6 L234.5,206.7 L233.7,206.2 L218.2,241.7 L209.5,257.7 L205.0,265.2 L199.0,273.1 L191.5,281.2 L172.5,299.4 L163.6,306.7 L153.4,316.2 L132.8,330.7 L109.5,345.6 L87.2,358.2 L39.5,383.2 L4.5,401.1" fill="none" stroke="#a88a68" stroke-width="0.70"/>
<path d="M243.1,203.2 L242.6,205.7 L241.0,208.4 L240.0,208.5 L238.5,207.5 L237.5,207.5 L237.0,207.0 L233.0,206.1 L232.5,205.7 L231.5,205.7 L223.1,226.7 L216.9,241.2 L208.5,256.9 L203.9,264.7 L198.1,272.2 L190.5,280.2 L171.0,298.1 L162.3,305.2 L152.0,315.1 L131.7,329.2 L116.0,339.2 L87.0,356.3 L39.0,381.8 L4.5,399.5" fill="none" stroke="#a88a68" stroke-width="0.70"/>
</g></g>
<path d="M85.0,378.5 Q84.2,370.2 91.5,357.9" fill="none" stroke="#3d7a68" stroke-width="0.70"/>
<path d="M98.5,372.2 Q97.5,363.4 104.5,350.7" fill="none" stroke="#3d7a68" stroke-width="0.70"/>
<path d="M111.4,366.2 Q109.7,357.0 116.0,343.8" fill="none" stroke="#3d7a68" stroke-width="0.70"/>
<path d="M137.4,349.2 Q134.5,346.3 139.5,339.4" fill="none" stroke="#3d7a68" stroke-width="0.70"/>
<path d="M149.0,340.6 Q146.0,337.8 151.0,331.0" fill="none" stroke="#3d7a68" stroke-width="0.70"/>
<path d="M173.7,322.2 Q170.3,319.3 175.0,312.4" fill="none" stroke="#3d7a68" stroke-width="0.70"/>
<path d="M185.5,313.2 Q181.0,310.3 184.5,303.4" fill="none" stroke="#3d7a68" stroke-width="0.70"/>
<path d="M191.0,305.7 Q186.7,302.9 190.3,296.2" fill="none" stroke="#3d7a68" stroke-width="0.70"/>
<path d="M195.5,299.2 Q191.4,296.7 195.2,290.2" fill="none" stroke="#3d7a68" stroke-width="0.70"/>
<path d="M199.0,294.2 Q195.0,291.8 199.0,285.5" fill="none" stroke="#3d7a68" stroke-width="0.70"/>
<path d="M203.0,288.2 Q199.3,285.9 203.5,279.7" fill="none" stroke="#3d7a68" stroke-width="0.70"/>
<path d="M207.5,281.7 Q203.7,279.7 207.9,273.7" fill="none" stroke="#3d7a68" stroke-width="0.70"/>
<path d="M212.0,275.2 Q208.2,273.2 212.4,267.2" fill="none" stroke="#3d7a68" stroke-width="0.70"/>
<path d="M215.5,270.2 Q211.6,268.2 215.7,262.2" fill="none" stroke="#3d7a68" stroke-width="0.70"/>
<path d="M220.0,263.7 Q215.9,261.7 219.8,255.7" fill="none" stroke="#3d7a68" stroke-width="0.70"/>
<path d="M223.0,259.2 Q218.8,257.2 222.6,251.2" fill="none" stroke="#3d7a68" stroke-width="0.70"/>
<path d="M227.5,252.7 Q223.1,250.7 226.7,244.7" fill="none" stroke="#3d7a68" stroke-width="0.70"/>
</g></g>
<path d="M-10.0,404.5 C-6.2,402.5 4.6,396.7 12.5,392.5 C20.4,388.3 25.4,386.0 37.5,379.5 C49.6,373.0 72.3,360.9 85.0,353.8 C97.7,346.6 106.3,341.0 113.8,336.5 C121.3,332.0 124.0,330.5 130.0,326.5 C136.1,322.5 146.8,315.0 150.1,312.7" fill="none" stroke="#555" stroke-width="0.9"/>
<polyline points="28.7,404.8 166.9,340.8 256.5,211.0" fill="none" stroke="#111" stroke-width="1.3" stroke-linejoin="miter"/>
<path d="M130.0,326.5 C133.3,324.2 145.1,316.7 150.1,312.7 C155.1,308.7 157.1,305.5 160.2,302.6 C163.3,299.7 165.5,298.3 168.9,295.4 C172.3,292.5 177.0,288.2 180.4,285.3 C183.8,282.4 186.4,280.5 189.1,278.1 C191.8,275.7 194.2,273.3 196.3,270.9 C198.5,268.5 200.3,266.2 202.0,263.7 C203.7,261.2 205.1,258.6 206.5,256.0 C207.9,253.4 209.2,250.7 210.5,248.0 C211.8,245.3 213.0,243.7 214.6,240.0 C216.2,236.3 218.5,230.5 220.2,225.8 C221.9,221.1 223.7,215.2 225.0,211.6 C226.3,208.0 227.5,205.3 228.0,204.0" fill="none" stroke="#000" stroke-width="2.2" stroke-linecap="round"/>
</g>
<rect x="18.0" y="214.5" width="68.3" height="81.8" fill="#fff" stroke="#707070" stroke-width="0.8"/>
<rect x="22.0" y="223.8" width="23.8" height="69.2" fill="url(#spec)"/>
<text x="20.2" y="220.2" class="lt">Var: Streamlines - Speed</text>
<line x1="45.8" y1="223.8" x2="50.8" y2="223.8" stroke="#777" stroke-width="0.6"/>
<text x="53.4" y="225.0" class="cl">1.209e+04</text>
<line x1="45.8" y1="241.1" x2="50.8" y2="241.1" stroke="#777" stroke-width="0.6"/>
<text x="53.4" y="242.3" class="cl">9068.</text>
<line x1="45.8" y1="258.4" x2="50.8" y2="258.4" stroke="#777" stroke-width="0.6"/>
<text x="53.4" y="259.6" class="cl">6050.</text>
<line x1="45.8" y1="275.7" x2="50.8" y2="275.7" stroke="#777" stroke-width="0.6"/>
<text x="53.4" y="276.9" class="cl">3032.</text>
<line x1="45.8" y1="293.0" x2="50.8" y2="293.0" stroke="#777" stroke-width="0.6"/>
<text x="53.4" y="294.2" class="cl">14.44</text>
<text x="99.5" y="234" class="ann" style="font-size:9.4px">Shock inflection</text>
<text x="124" y="244.8" class="ann" style="font-size:9.4px">point</text>
<line x1="157.0" y1="245.5" x2="190.6" y2="261.9" stroke="#111" stroke-width="1.1"/><polygon points="196.0,264.5 188.6,263.8 190.8,259.1" fill="#111"/>
<text x="174.3" y="373" class="ann" style="font-size:11px">B<tspan dy="2.6" style="font-size:7.6px">max</tspan><tspan dy="-2.6"> = 2.25 T</tspan></text>
<text x="164" y="391.2" class="ann" style="font-size:11px">Z<tspan dy="2.6" style="font-size:7.6px">dist</tspan><tspan dy="-2.6"> = 10.0 mm</tspan></text>
<clipPath id="bMR"><polygon points="253.7,395.0 273.7,395.0 390.0,332.8 409.6,317.3 428.8,302.0 448.0,284.6 458.5,269.6 460.8,251.2 464.6,231.2 470.8,209.6 472.5,203.0 472.5,190.0 538.0,190.0 538.0,424.5 253.7,424.5"/></clipPath>
<clipPath id="bpMR"><polygon points="260.0,417.3 379.0,363.0 452.6,307.0 522.0,208.0 514.0,202.0 500.0,222.0 485.0,243.0 470.0,262.0 458.5,269.6 448.0,284.6 428.8,302.0 409.6,317.3 390.0,332.8 273.7,395.0 260.0,402.2"/></clipPath>
<clipPath id="fMR"><polygon points="260.0,417.3 429.5,340.0 522.0,208.0 548.0,178.0 548.0,170.0 233.7,170.0 233.7,417.3"/></clipPath>
<filter id="sbMR" x="-20%" y="-20%" width="140%" height="140%"><feGaussianBlur stdDeviation="1.6"/></filter>
<mask id="sMR" maskUnits="userSpaceOnUse" x="0" y="0" width="520" height="618"><polygon points="367.0,372.0 379.0,356.0 410.0,332.0 440.0,308.0 455.0,298.0 460.0,320.0 420.0,360.0 380.0,380.0" fill="#fff" filter="url(#sbMR)"/></mask>
<linearGradient id="zgMR0" gradientUnits="userSpaceOnUse" x1="452.0" y1="280.0" x2="462.0" y2="266.0"><stop offset="0" stop-color="#000"/><stop offset="1" stop-color="#fff"/></linearGradient>
<mask id="zmMR0" maskUnits="userSpaceOnUse" x="0" y="0" width="520" height="618"><rect x="0" y="0" width="520" height="618" fill="url(#zgMR0)"/></mask>
<radialGradient id="rgMR0" gradientUnits="userSpaceOnUse" cx="452.0" cy="282.0" r="40.0"><stop offset="0.3" stop-color="#fff"/><stop offset="1" stop-color="#000"/></radialGradient>
<mask id="rmMR0" maskUnits="userSpaceOnUse" x="0" y="0" width="520" height="618"><rect x="0" y="0" width="520" height="618" fill="url(#rgMR0)"/></mask>
<clipPath id="cMR"><rect x="273.7" y="210.0" width="244.3" height="194.5"/></clipPath>
<rect x="273.7" y="210.0" width="244.3" height="194.5" fill="none" stroke="#c8c8c8" stroke-width="0.8"/>
<text x="273.1" y="223.2" class="tk" text-anchor="end">5.5</text>
<line x1="271.7" y1="221.3" x2="273.7" y2="221.3" stroke="#b0b0b0" stroke-width="0.6"/>
<text x="273.1" y="249.5" class="tk" text-anchor="end">5.0</text>
<line x1="271.7" y1="247.6" x2="273.7" y2="247.6" stroke="#b0b0b0" stroke-width="0.6"/>
<text x="273.1" y="276.1" class="tk" text-anchor="end">4.5</text>
<line x1="271.7" y1="274.2" x2="273.7" y2="274.2" stroke="#b0b0b0" stroke-width="0.6"/>
<text x="273.1" y="302.8" class="tk" text-anchor="end">4.0</text>
<line x1="271.7" y1="300.9" x2="273.7" y2="300.9" stroke="#b0b0b0" stroke-width="0.6"/>
<text x="273.1" y="329.5" class="tk" text-anchor="end">3.5</text>
<line x1="271.7" y1="327.6" x2="273.7" y2="327.6" stroke="#b0b0b0" stroke-width="0.6"/>
<text x="273.1" y="355.5" class="tk" text-anchor="end">3.0</text>
<line x1="271.7" y1="353.6" x2="273.7" y2="353.6" stroke="#b0b0b0" stroke-width="0.6"/>
<text x="273.1" y="382.0" class="tk" text-anchor="end">2.5</text>
<line x1="271.7" y1="380.1" x2="273.7" y2="380.1" stroke="#b0b0b0" stroke-width="0.6"/>
<text x="310.8" y="411.8" class="tk" text-anchor="middle">-9.0</text>
<text x="364.0" y="411.8" class="tk" text-anchor="middle">-8.0</text>
<text x="416.7" y="411.8" class="tk" text-anchor="middle">-7.0</text>
<text x="470.7" y="411.8" class="tk" text-anchor="middle">-6.0</text>
<g clip-path="url(#cMR)">
<line x1="273.7" y1="222.9" x2="467.0" y2="222.9" stroke="#c09ca8" stroke-width="0.95"/>
<line x1="273.7" y1="249.3" x2="461.2" y2="249.3" stroke="#c09ca8" stroke-width="0.95"/>
<line x1="273.7" y1="275.0" x2="454.7" y2="275.0" stroke="#c09ca8" stroke-width="0.95"/>
<line x1="273.7" y1="301.8" x2="429.0" y2="301.8" stroke="#c09ca8" stroke-width="0.95"/>
<line x1="273.7" y1="327.6" x2="396.6" y2="327.6" stroke="#c09ca8" stroke-width="0.95"/>
<line x1="273.7" y1="353.6" x2="351.1" y2="353.6" stroke="#c09ca8" stroke-width="0.95"/>
<line x1="273.7" y1="380.1" x2="301.6" y2="380.1" stroke="#c09ca8" stroke-width="0.95"/>
<g clip-path="url(#fMR)"><g clip-path="url(#bMR)">
<polygon points="477.9,265.7 524.2,199.7 516.8,194.5 472.2,261.7" fill="#f4f0c4" opacity="0.80"/>
<polyline points="483,209.6 463,249.6" fill="none" stroke="#a8d4e4" stroke-width="0.7"/>
<path d="M463.5,249.8 C464.6,250.2 467.9,252.0 470.0,252.0 C472.1,252.0 474.0,250.7 476.0,250.0 C478.0,249.3 480.1,248.7 482.0,248.0 C483.9,247.3 485.9,246.6 487.7,245.8 C489.5,245.0 491.5,244.3 493.0,243.0 C494.5,241.7 495.6,239.8 496.5,238.0 C497.4,236.2 498.6,234.6 498.5,232.3 C498.4,230.0 496.9,226.7 496.0,224.0 C495.1,221.3 493.7,218.3 493.0,216.0 C492.3,213.7 492.2,211.0 492.0,210.0" fill="none" stroke="#999088" stroke-width="0.7"/>
<path d="M479.6,210.0 C480.3,211.0 482.6,214.1 484.0,216.0 C485.4,217.9 486.6,219.2 487.7,221.5 C488.8,223.8 489.3,227.5 490.4,229.6 C491.4,231.7 492.4,232.9 494.0,234.0 C495.6,235.1 498.0,236.3 500.0,236.0 C502.0,235.7 505.0,232.7 506.0,232.0" fill="none" stroke="#999088" stroke-width="0.7"/>
<path d="M505.0,214.0 C504.5,215.3 501.8,219.7 502.0,222.0 C502.2,224.3 504.7,228.0 506.0,228.0 C507.3,228.0 509.0,224.3 510.0,222.0 C511.0,219.7 511.7,215.3 512.0,214.0" fill="none" stroke="#c0b070" stroke-width="0.6"/>
<path d="M520.6,202.0 L518.0,205.0 L520.7,207.4 L521.2,207.4 L521.5,208.0 L451.8,306.5 L378.7,362.0 L270.1,412.0" fill="none" stroke="#6ec3c9" stroke-width="0.90"/>
<path d="M520.6,202.0 L518.0,205.0 L520.7,207.5 L477.7,268.5 L468.8,280.0 L458.7,294.4 L450.2,305.5 L398.8,345.0 L377.5,360.5 L267.1,412.0" fill="none" stroke="#9dd9b6" stroke-width="0.90"/>
<path d="M520.5,202.0 L517.9,205.0 L518.7,205.9 L519.2,205.9 L520.0,207.0 L476.7,268.0 L467.7,279.0 L457.7,293.2 L449.2,304.0 L398.2,343.5 L376.7,358.7 L265.7,411.3" fill="none" stroke="#cee8a1" stroke-width="0.90"/>
<path d="M520.5,202.0 L517.8,205.0 L518.7,205.9 L519.2,206.0 L519.2,206.5 L490.4,247.5 L475.8,267.5 L466.5,278.0 L456.7,292.0 L447.7,303.0 L396.9,342.5 L375.7,357.1 L265.7,409.9" fill="none" stroke="#efe595" stroke-width="0.90"/>
<path d="M520.5,202.0 L517.8,205.0 L518.5,206.0 L505.1,225.0 L475.2,266.6 L465.4,277.0 L455.6,291.0 L447.2,301.0 L436.2,310.1 L395.7,341.4 L374.5,355.5 L265.7,408.5" fill="none" stroke="#f8d390" stroke-width="0.90"/>
<path d="M520.5,202.0 L517.7,205.0 L517.7,205.5 L489.2,246.0 L474.3,266.0 L464.3,276.0 L454.4,290.0 L445.7,300.0 L434.9,309.0 L395.0,340.0 L373.7,353.7 L265.7,407.1" fill="none" stroke="#f7c292" stroke-width="0.90"/>
<path d="M520.4,202.0 L518.2,204.7 L517.7,205.0 L517.2,204.7 L488.4,245.5 L473.7,265.1 L463.6,274.5 L453.3,289.0 L444.7,298.5 L433.7,307.9 L394.2,338.7 L372.7,352.1 L265.7,405.7" fill="none" stroke="#f4b9a2" stroke-width="0.90"/>
<path d="M520.4,202.0 L518.2,204.7 L516.2,204.5 L487.7,244.9 L472.8,264.5 L462.4,273.5 L452.2,288.0 L449.7,290.7 L442.7,298.0 L432.7,306.5 L393.2,337.5 L371.7,350.5 L265.7,404.3" fill="none" stroke="#f0c3c2" stroke-width="0.90"/>
<path d="M520.4,202.0 L518.2,204.7 L517.7,204.8 L515.7,203.7 L486.9,244.5 L471.9,264.0 L461.3,272.5 L450.7,287.4 L441.7,296.5 L431.2,305.6 L391.7,336.5 L370.3,349.0 L265.7,402.9" fill="none" stroke="#edd2dc" stroke-width="0.90"/>
<path d="M520.3,202.0 L518.8,203.5 L518.8,204.0 L517.7,204.8 L515.1,203.0 L486.2,243.9 L471.3,263.0 L460.2,271.4 L449.7,286.3 L440.2,295.5 L430.6,304.0 L391.7,334.7 L369.2,347.4 L265.7,401.5" fill="none" stroke="#d9c9d8" stroke-width="0.90"/>
<path d="M520.3,202.0 L518.8,203.5 L518.8,204.0 L517.7,204.7 L515.2,202.9 L514.2,202.7 L485.7,243.0 L470.7,262.1 L459.2,270.3 L448.4,285.5 L429.2,303.0 L390.7,333.5 L368.2,345.8 L265.7,400.1" fill="none" stroke="#969696" stroke-width="0.90"/>
<path d="M520.3,202.0 L518.8,203.5 L518.8,204.0 L517.7,204.7 L515.2,202.9 L514.2,202.8 L485.7,243.1 L470.7,262.2 L459.2,270.4 L448.5,285.5 L429.3,303.0 L390.8,333.5 L368.2,345.9 L265.7,400.2" fill="none" stroke="#7a7a7a" stroke-width="0.70"/>
<path d="M520.3,202.0 L518.8,203.5 L518.8,204.0 L517.7,204.7 L515.2,202.8 L514.0,202.5 L486.2,242.0 L477.2,253.5 L470.2,262.2 L458.7,270.0 L448.2,285.0 L428.9,302.5 L390.4,333.0 L265.7,399.6" fill="none" stroke="#5a5a5a" stroke-width="0.80"/>
<path d="M454.5,308.5 L452.8,307.2 L452.2,307.5 L428.9,339.2 L379.0,363.0 L380.0,364.8" fill="none" stroke="#b8b8e8" stroke-width="0.80"/>
<path d="M454.5,308.4 L452.8,307.2 L452.2,307.5 L427.7,337.8 L379.0,363.0 L379.9,364.8" fill="none" stroke="#c8c8ee" stroke-width="0.80"/>
<path d="M454.5,308.4 L452.8,307.1 L452.1,307.5 L426.5,336.4 L379.0,362.9 L379.9,364.8" fill="none" stroke="#b2b5e8" stroke-width="0.80"/>
<path d="M454.5,308.4 L452.5,307.1 L425.2,335.0 L379.0,362.9 L379.9,364.8" fill="none" stroke="#7882d5" stroke-width="0.80"/>
<path d="M454.5,308.3 L452.5,307.1 L424.2,333.5 L379.0,362.9 L379.8,364.8" fill="none" stroke="#485ec3" stroke-width="0.80"/>
<path d="M454.5,308.3 L452.5,307.1 L423.0,332.1 L379.0,362.8 L379.8,364.8" fill="none" stroke="#687bcf" stroke-width="0.80"/>
<path d="M454.5,308.3 L452.8,307.0 L452.0,307.4 L421.8,330.8 L379.0,362.8 L378.8,363.0 L379.8,364.8" fill="none" stroke="#6878cc" stroke-width="0.80"/>
<g clip-path="url(#bpMR)"><g mask="url(#sMR)">
<rect x="0" y="0" width="520" height="618" fill="#fff"/>
<path d="M520.6,202.0 L518.1,205.0 L521.3,207.5 L521.7,208.0 L521.2,208.9 L452.2,307.0 L378.7,362.8 L271.2,412.0" fill="none" stroke="#407ec8" stroke-width="1.00"/>
<path d="M520.6,202.0 L518.0,205.0 L521.5,208.0 L452.0,306.5 L378.7,362.2 L270.3,412.0" fill="none" stroke="#409ac8" stroke-width="1.00"/>
<path d="M520.6,202.0 L518.0,205.0 L520.7,207.4 L521.2,207.4 L521.2,208.0 L478.2,269.2 L451.7,306.1 L378.2,361.9 L269.5,412.0" fill="none" stroke="#4cb0c0" stroke-width="1.00"/>
<path d="M520.6,202.0 L518.0,205.0 L521.2,207.6 L478.2,268.7 L451.1,306.0 L399.2,345.7 L378.2,361.3 L268.7,412.0" fill="none" stroke="#64c0b0" stroke-width="1.00"/>
<path d="M520.6,202.0 L518.0,205.0 L521.0,207.5 L478.0,268.5 L450.7,305.7 L399.2,345.2 L377.7,360.9 L267.9,412.0" fill="none" stroke="#84d0a6" stroke-width="1.00"/>
<path d="M520.6,202.0 L518.0,205.0 L520.7,207.5 L477.7,268.4 L468.7,280.0 L458.7,294.3 L450.2,305.4 L398.7,345.0 L377.4,360.5 L267.0,412.0" fill="none" stroke="#acdea3" stroke-width="1.00"/>
<path d="M520.6,202.0 L517.9,205.0 L519.4,206.0 L520.4,207.5 L477.6,268.0 L468.2,280.0 L458.4,294.0 L450.0,305.0 L398.7,344.5 L377.2,360.0 L266.2,412.0" fill="none" stroke="#d2eca0" stroke-width="1.00"/>
<path d="M520.6,202.0 L517.9,205.0 L519.3,206.0 L520.2,207.3 L477.2,268.1 L468.1,279.5 L458.2,293.6 L449.7,304.6 L398.2,344.3 L376.9,359.5 L265.7,411.9" fill="none" stroke="#e2eaa0" stroke-width="1.00"/>
<path d="M520.6,202.0 L517.9,205.0 L520.1,207.0 L476.9,268.0 L467.9,279.0 L457.7,293.5 L449.2,304.4 L398.2,343.8 L376.7,359.0 L265.7,411.5" fill="none" stroke="#f3e8a0" stroke-width="1.00"/>
</g></g>
<g clip-path="url(#bpMR)"><g mask="url(#zmMR0)">
<rect x="0" y="0" width="520" height="618" fill="#fefbf0"/>
<path d="M520.6,202.0 L518.0,205.0 L521.6,208.0 L452.2,306.5 L378.7,362.4 L270.6,412.0" fill="none" stroke="#85cabf" stroke-width="0.80"/>
<path d="M520.6,202.0 L518.0,205.0 L521.2,207.6 L478.2,268.7 L451.0,306.0 L399.2,345.7 L378.2,361.2 L268.6,412.0" fill="none" stroke="#b0deaf" stroke-width="0.80"/>
<path d="M520.6,202.0 L518.0,205.0 L518.7,205.8 L519.2,205.8 L520.5,207.5 L477.7,268.2 L468.5,280.0 L458.7,293.9 L450.2,305.1 L398.7,344.7 L377.2,360.3 L266.6,412.0" fill="none" stroke="#e0eaa9" stroke-width="0.80"/>
<path d="M520.6,202.0 L517.9,205.0 L520.1,207.0 L477.0,268.0 L468.0,279.0 L457.8,293.5 L449.2,304.4 L398.2,343.8 L376.7,359.1 L265.7,411.5" fill="none" stroke="#ede9ac" stroke-width="0.80"/>
<path d="M520.5,202.0 L517.9,205.0 L519.7,206.6 L490.9,247.5 L476.2,267.8 L467.1,278.5 L457.2,292.6 L448.5,303.5 L397.5,343.0 L376.0,358.0 L265.7,410.6" fill="none" stroke="#f2e6b1" stroke-width="0.80"/>
<path d="M520.5,202.0 L517.8,205.0 L519.2,206.2 L490.2,247.5 L475.7,267.3 L466.6,277.5 L456.4,292.0 L447.7,302.6 L396.7,342.3 L375.2,357.0 L265.7,409.7" fill="none" stroke="#f3e8b5" stroke-width="0.80"/>
<path d="M520.5,202.0 L517.8,205.0 L518.6,206.0 L490.2,246.5 L475.2,266.8 L465.7,277.0 L455.7,291.2 L447.2,301.4 L436.2,310.5 L396.2,341.4 L374.7,355.8 L265.7,408.8" fill="none" stroke="#f4e9ba" stroke-width="0.80"/>
<path d="M520.5,202.0 L517.8,205.0 L518.2,205.6 L504.6,225.0 L489.4,246.5 L474.7,266.3 L464.8,276.5 L455.0,290.5 L446.4,300.5 L435.6,309.5 L395.7,340.5 L374.2,354.6 L265.7,407.8" fill="none" stroke="#f5ebbf" stroke-width="0.80"/>
<path d="M520.4,202.0 L517.7,205.0 L489.2,245.7 L474.2,265.9 L464.3,275.5 L454.2,289.9 L445.3,300.0 L434.7,308.8 L394.7,339.9 L373.5,353.5 L265.7,406.9" fill="none" stroke="#f6ecc4" stroke-width="0.80"/>
<path d="M520.4,202.0 L518.2,204.7 L517.2,204.9 L488.6,245.5 L473.7,265.4 L463.7,274.7 L453.6,289.0 L444.7,298.9 L433.7,308.2 L394.2,339.0 L372.7,352.5 L265.7,406.0" fill="none" stroke="#f7eec8" stroke-width="0.80"/>
<path d="M520.4,202.0 L518.2,204.7 L517.7,204.9 L516.8,204.5 L488.2,245.0 L473.2,264.9 L463.0,274.0 L452.7,288.6 L443.9,298.0 L433.2,307.2 L393.7,338.1 L372.2,351.3 L265.7,405.0" fill="none" stroke="#f8efcd" stroke-width="0.80"/>
<path d="M520.4,202.0 L518.2,204.7 L517.7,204.9 L516.2,204.3 L487.7,244.7 L472.7,264.4 L462.2,273.3 L451.7,288.2 L442.7,297.6 L432.2,306.6 L393.2,337.1 L371.7,350.1 L265.7,404.1" fill="none" stroke="#f8f0d2" stroke-width="0.80"/>
<path d="M520.4,202.0 L518.2,204.7 L517.7,204.8 L515.7,203.9 L487.1,244.5 L472.2,263.9 L461.6,272.5 L451.0,287.5 L441.7,296.9 L431.7,305.6 L391.7,336.9 L370.7,349.2 L265.7,403.2" fill="none" stroke="#f9f2d6" stroke-width="0.80"/>
<path d="M520.3,202.0 L518.8,203.5 L518.8,204.0 L517.7,204.8 L515.3,203.5 L486.7,244.0 L471.7,263.4 L460.7,272.0 L450.2,286.9 L440.9,296.0 L431.2,304.5 L411.7,320.0 L391.7,335.6 L370.2,348.0 L265.7,402.2" fill="none" stroke="#faf3db" stroke-width="0.80"/>
<path d="M520.3,202.0 L518.8,203.5 L518.8,204.0 L517.7,204.7 L514.9,203.0 L486.2,243.6 L471.2,262.9 L460.2,271.1 L449.6,286.0 L440.2,295.1 L430.2,303.9 L391.7,334.3 L369.2,347.1 L265.7,401.3" fill="none" stroke="#fbf5e0" stroke-width="0.80"/>
<path d="M520.3,202.0 L518.8,203.5 L518.8,204.0 L517.7,204.7 L515.2,202.9 L514.2,202.9 L485.7,243.2 L470.7,262.4 L459.3,270.5 L448.7,285.5 L429.6,303.0 L391.1,333.5 L368.7,345.9 L265.7,400.3" fill="none" stroke="#fcf6e5" stroke-width="0.80"/>
<path d="M520.3,202.0 L518.8,203.5 L518.8,204.0 L517.7,204.7 L515.2,202.8 L513.8,202.5 L511.6,206.0 L486.1,242.0 L471.2,261.0 L469.2,263.0 L458.7,269.7 L447.8,285.0 L428.7,302.5 L392.2,331.5 L387.7,334.5 L381.2,338.0 L265.7,399.5" fill="none" stroke="#fdf8e9" stroke-width="0.80"/>
<path d="M456.0,274.0 C458.0,272.7 464.3,269.0 468.0,266.0 C471.7,263.0 475.3,258.7 478.0,256.0 C480.7,253.3 482.3,251.7 484.0,250.0 C485.7,248.3 487.3,246.7 488.0,246.0" fill="none" stroke="#b09068" stroke-width="0.7"/>
<path d="M458.0,276.0 C460.0,274.7 466.3,270.8 470.0,268.0 C473.7,265.2 477.3,261.5 480.0,259.0 C482.7,256.5 484.0,255.0 486.0,253.0 C488.0,251.0 491.0,248.0 492.0,247.0" fill="none" stroke="#b09068" stroke-width="0.7"/>
<path d="M460.0,278.0 C462.0,276.7 468.3,272.7 472.0,270.0 C475.7,267.3 479.3,264.2 482.0,262.0 C484.7,259.8 485.7,259.3 488.0,257.0 C490.3,254.7 494.7,249.5 496.0,248.0" fill="none" stroke="#b09068" stroke-width="0.7"/>
<path d="M462.0,280.0 C464.0,278.8 470.3,275.3 474.0,273.0 C477.7,270.7 481.0,268.5 484.0,266.0 C487.0,263.5 489.3,260.7 492.0,258.0 C494.7,255.3 498.7,251.3 500.0,250.0" fill="none" stroke="#b09068" stroke-width="0.7"/>
</g></g>
<g clip-path="url(#bpMR)"><g mask="url(#rmMR0)">
<path d="M520.5,202.0 L517.8,205.0 L518.8,206.0 L490.2,246.6 L475.2,267.0 L465.9,277.0 L455.7,291.5 L447.4,301.5 L436.4,310.5 L396.2,341.6 L374.7,356.0 L265.7,408.9" fill="none" stroke="#a88a68" stroke-width="0.70"/>
<path d="M520.5,202.0 L517.7,205.0 L518.1,205.5 L504.5,225.0 L489.3,246.5 L474.7,266.2 L465.0,276.0 L454.8,290.5 L446.2,300.5 L435.3,309.5 L395.4,340.5 L373.9,354.5 L265.7,407.7" fill="none" stroke="#a88a68" stroke-width="0.70"/>
<path d="M520.4,202.0 L518.9,203.5 L518.9,204.0 L517.5,205.0 L489.0,245.5 L474.0,265.5 L464.1,275.0 L453.9,289.5 L445.2,299.2 L434.2,308.5 L394.7,339.3 L373.2,352.9 L265.7,406.4" fill="none" stroke="#a88a68" stroke-width="0.70"/>
<path d="M520.4,202.0 L518.2,204.7 L517.7,204.9 L516.9,204.5 L488.2,245.2 L473.2,265.0 L463.2,274.0 L452.7,288.8 L444.2,298.0 L433.2,307.4 L393.7,338.3 L372.2,351.5 L265.7,405.2" fill="none" stroke="#a88a68" stroke-width="0.70"/>
<path d="M520.4,202.0 L518.2,204.7 L517.7,204.9 L516.2,204.1 L487.7,244.5 L472.7,264.2 L462.2,273.1 L451.7,288.0 L442.7,297.3 L432.2,306.3 L393.1,337.0 L371.4,350.0 L265.7,403.9" fill="none" stroke="#a88a68" stroke-width="0.70"/>
<path d="M520.4,202.0 L518.9,203.5 L518.9,204.0 L517.7,204.8 L515.6,203.5 L487.0,244.0 L472.1,263.5 L461.2,272.2 L450.7,287.1 L441.7,296.1 L431.7,304.8 L412.2,320.2 L392.2,335.9 L370.6,348.5 L265.7,402.7" fill="none" stroke="#a88a68" stroke-width="0.70"/>
<path d="M520.3,202.0 L518.8,203.5 L518.8,204.0 L517.7,204.8 L515.0,203.0 L486.2,243.8 L471.3,263.0 L460.2,271.3 L449.7,286.2 L440.2,295.4 L430.4,304.0 L391.7,334.6 L369.2,347.3 L265.7,401.4" fill="none" stroke="#a88a68" stroke-width="0.70"/>
</g></g>
<path d="M352.2,375.0 Q352.2,367.4 360.2,355.7" fill="none" stroke="#3d7a68" stroke-width="0.70"/>
<path d="M364.7,369.3 Q364.2,361.6 371.7,349.8" fill="none" stroke="#3d7a68" stroke-width="0.70"/>
<path d="M389.7,354.5 Q386.5,351.3 391.4,344.0" fill="none" stroke="#3d7a68" stroke-width="0.70"/>
<path d="M402.2,345.0 Q398.9,342.0 403.6,335.0" fill="none" stroke="#3d7a68" stroke-width="0.70"/>
<path d="M416.2,334.5 Q412.7,331.5 417.2,324.5" fill="none" stroke="#3d7a68" stroke-width="0.70"/>
<path d="M432.2,322.3 Q428.8,319.1 433.3,312.0" fill="none" stroke="#3d7a68" stroke-width="0.70"/>
<path d="M445.7,312.0 Q442.0,308.8 446.3,301.5" fill="none" stroke="#3d7a68" stroke-width="0.70"/>
<path d="M456.7,300.5 Q452.0,297.8 455.3,291.0" fill="none" stroke="#3d7a68" stroke-width="0.70"/>
<path d="M462.7,292.0 Q458.0,289.3 461.2,282.6" fill="none" stroke="#3d7a68" stroke-width="0.70"/>
<path d="M468.7,283.5 Q464.6,280.5 468.4,273.5" fill="none" stroke="#3d7a68" stroke-width="0.70"/>
</g></g>
<path d="M273.7,395.0 C293.1,384.6 367.4,345.8 390.0,332.8 C412.6,319.9 403.1,322.4 409.6,317.3 C416.1,312.2 425.6,304.6 428.8,302.0" fill="none" stroke="#777" stroke-width="0.8"/>
<path d="M409.6,317.3 C412.8,314.8 422.4,307.4 428.8,302.0 C435.2,296.6 443.1,290.0 448.0,284.6 C452.9,279.2 456.8,272.1 458.5,269.6" fill="none" stroke="#333" stroke-width="1.2"/>
<polyline points="288.0,404.5 429.5,340.0 522.0,208.0" fill="none" stroke="#111" stroke-width="1.3" stroke-linejoin="miter"/>
<path d="M458.5,269.6 C458.9,266.5 459.8,257.6 460.8,251.2 C461.8,244.8 462.9,238.1 464.6,231.2 C466.3,224.3 469.5,214.3 470.8,209.6 C472.1,204.9 472.2,204.1 472.5,203.0" fill="none" stroke="#000" stroke-width="2.2" stroke-linecap="round"/>
</g>
<rect x="279.5" y="214.5" width="65.5" height="81.8" fill="#fff" stroke="#707070" stroke-width="0.8"/>
<rect x="282.0" y="223.8" width="23.8" height="69.2" fill="url(#spec)"/>
<text x="281.7" y="220.2" class="lt">Var: Streamlines - Speed</text>
<line x1="305.8" y1="223.8" x2="310.8" y2="223.8" stroke="#777" stroke-width="0.6"/>
<text x="313.4" y="225.0" class="cl">1.208e+04</text>
<line x1="305.8" y1="241.1" x2="310.8" y2="241.1" stroke="#777" stroke-width="0.6"/>
<text x="313.4" y="242.3" class="cl">9064.</text>
<line x1="305.8" y1="258.4" x2="310.8" y2="258.4" stroke="#777" stroke-width="0.6"/>
<text x="313.4" y="259.6" class="cl">6047.</text>
<line x1="305.8" y1="275.7" x2="310.8" y2="275.7" stroke="#777" stroke-width="0.6"/>
<text x="313.4" y="276.9" class="cl">3029.</text>
<line x1="305.8" y1="293.0" x2="310.8" y2="293.0" stroke="#777" stroke-width="0.6"/>
<text x="313.4" y="294.2" class="cl">12.22</text>
<text x="368.9" y="233.8" class="ann" style="font-size:9.4px">Shock triple</text>
<text x="384" y="245" class="ann" style="font-size:9.4px">point</text>
<line x1="417.7" y1="246.3" x2="451.3" y2="266.0" stroke="#111" stroke-width="1.1"/><polygon points="456.5,269.0 449.1,267.7 451.8,263.2" fill="#111"/>
<text x="438.2" y="373.6" class="ann" style="font-size:11.0px">B<tspan dy="2.6" style="font-size:7.6px">max</tspan><tspan dy="-2.6"> = 2.25 T</tspan></text>
<text x="428.6" y="391.2" class="ann" style="font-size:11.0px">Z<tspan dy="2.6" style="font-size:7.6px">dist</tspan><tspan dy="-2.6"> = 13.5 mm</tspan></text>
<clipPath id="bBL"><polygon points="-8.0,598.0 12.0,598.0 40.0,583.5 60.0,573.8 90.0,554.6 130.0,529.0 146.5,518.5 161.2,506.0 172.5,496.5 172.2,492.5 173.0,480.0 174.5,465.0 177.0,440.0 180.7,415.0 182.0,408.0 182.0,395.0 274.0,395.0 274.0,628.8 -8.0,628.8"/></clipPath>
<clipPath id="bpBL"><polygon points="-10.0,627.0 95.0,577.6 198.2,502.0 262.8,410.0 262.0,396.0 250.0,413.0 203.0,489.0 190.0,494.0 172.5,496.5 161.2,506.0 146.5,518.5 130.0,529.0 90.0,554.6 60.0,573.8 40.0,583.5 12.0,598.0 -10.0,608.0"/></clipPath>
<clipPath id="fBL"><polygon points="-10.0,627.0 169.8,542.5 262.8,410.0 284.0,380.0 284.0,375.0 -28.0,375.0 -28.0,627.0"/></clipPath>
<filter id="sbBL" x="-20%" y="-20%" width="140%" height="140%"><feGaussianBlur stdDeviation="1.6"/></filter>
<mask id="sBL" maskUnits="userSpaceOnUse" x="0" y="0" width="520" height="618"><polygon points="128.0,600.0 120.0,562.0 150.0,515.0 175.0,498.0 215.0,478.0 215.0,520.0 180.0,560.0 142.0,600.0" fill="#fff" filter="url(#sbBL)"/></mask>
<linearGradient id="zgBL0" gradientUnits="userSpaceOnUse" x1="186.0" y1="500.0" x2="200.0" y2="490.0"><stop offset="0" stop-color="#000"/><stop offset="1" stop-color="#fff"/></linearGradient>
<mask id="zmBL0" maskUnits="userSpaceOnUse" x="0" y="0" width="520" height="618"><rect x="0" y="0" width="520" height="618" fill="url(#zgBL0)"/></mask>
<clipPath id="cBL"><rect x="12.0" y="415.0" width="242.0" height="193.8"/></clipPath>
<rect x="12.0" y="415.0" width="242.0" height="193.8" fill="none" stroke="#c8c8c8" stroke-width="0.8"/>
<text x="11.4" y="428.2" class="tk" text-anchor="end">5.5</text>
<line x1="10.0" y1="426.3" x2="12.0" y2="426.3" stroke="#b0b0b0" stroke-width="0.6"/>
<text x="11.4" y="454.4" class="tk" text-anchor="end">5.0</text>
<line x1="10.0" y1="452.5" x2="12.0" y2="452.5" stroke="#b0b0b0" stroke-width="0.6"/>
<text x="11.4" y="481.2" class="tk" text-anchor="end">4.5</text>
<line x1="10.0" y1="479.3" x2="12.0" y2="479.3" stroke="#b0b0b0" stroke-width="0.6"/>
<text x="11.4" y="507.7" class="tk" text-anchor="end">4.0</text>
<line x1="10.0" y1="505.8" x2="12.0" y2="505.8" stroke="#b0b0b0" stroke-width="0.6"/>
<text x="11.4" y="533.7" class="tk" text-anchor="end">3.5</text>
<line x1="10.0" y1="531.8" x2="12.0" y2="531.8" stroke="#b0b0b0" stroke-width="0.6"/>
<text x="11.4" y="559.4" class="tk" text-anchor="end">3.0</text>
<line x1="10.0" y1="557.5" x2="12.0" y2="557.5" stroke="#b0b0b0" stroke-width="0.6"/>
<text x="11.4" y="585.7" class="tk" text-anchor="end">2.5</text>
<line x1="10.0" y1="583.8" x2="12.0" y2="583.8" stroke="#b0b0b0" stroke-width="0.6"/>
<text x="50.0" y="615.3" class="tk" text-anchor="middle">-9.0</text>
<text x="102.5" y="615.3" class="tk" text-anchor="middle">-8.0</text>
<text x="155.0" y="615.3" class="tk" text-anchor="middle">-7.0</text>
<text x="208.9" y="615.3" class="tk" text-anchor="middle">-6.0</text>
<g clip-path="url(#cBL)">
<line x1="12.0" y1="428.0" x2="178.8" y2="428.0" stroke="#c09ca8" stroke-width="0.95"/>
<line x1="12.0" y1="454.0" x2="175.6" y2="454.0" stroke="#c09ca8" stroke-width="0.95"/>
<line x1="12.0" y1="479.8" x2="173.0" y2="479.8" stroke="#c09ca8" stroke-width="0.95"/>
<line x1="12.0" y1="505.3" x2="162.0" y2="505.3" stroke="#c09ca8" stroke-width="0.95"/>
<line x1="12.0" y1="531.8" x2="125.6" y2="531.8" stroke="#c09ca8" stroke-width="0.95"/>
<line x1="12.0" y1="557.7" x2="85.2" y2="557.7" stroke="#c09ca8" stroke-width="0.95"/>
<line x1="12.0" y1="584.2" x2="38.6" y2="584.2" stroke="#c09ca8" stroke-width="0.95"/>
<g clip-path="url(#fBL)"><g clip-path="url(#bBL)">
<polygon points="181,412 173,492 205,490 262,410" fill="#ffffff" opacity="1"/>
<path d="M230,415 L250,415 L245,425 L226,455 L218,460 L220,448 L225,432 Z" fill="#fdf8da"/>
<path d="M234,418 L244,416 L240,428 L236,440 L232,449 L228,447 L230,430 Z" fill="#f6eeb0" stroke="#c0b080" stroke-width="0.6"/>
<path d="M181.6,418.6 C185.2,419.4 197.5,421.4 203.0,423.6 C208.5,425.8 212.0,429.1 214.6,431.8 C217.2,434.6 218.0,437.3 218.8,440.1 C219.6,442.9 220.0,445.9 219.6,448.4 C219.2,450.9 219.1,452.2 216.3,455.0 C213.5,457.8 208.0,461.5 203.0,464.9 C198.0,468.3 191.2,473.1 186.5,475.6 C181.8,478.1 176.9,479.1 175.0,479.8" fill="none" stroke="#8a8a8a" stroke-width="0.7"/>
<path d="M209.2,414.0 C207.0,416.0 200.2,422.0 196.0,426.0 C191.8,430.0 187.3,434.7 184.0,438.0 C180.7,441.3 177.3,444.7 176.0,446.0" fill="none" stroke="#a8d0dc" stroke-width="0.6"/>
<path d="M229.2,414.0 C227.3,416.7 221.8,423.2 218.0,430.0 C214.2,436.8 210.2,448.7 206.4,454.7 C202.6,460.7 199.7,462.8 195.0,466.0 C190.3,469.2 180.8,472.7 178.0,474.0" fill="none" stroke="#a8d0dc" stroke-width="0.6"/>
<path d="M240.0,414.0 C238.3,417.0 233.0,425.7 230.0,432.0 C227.0,438.3 225.3,445.3 222.0,452.0 C218.7,458.7 215.3,466.3 210.0,472.0 C204.7,477.7 193.3,483.7 190.0,486.0" fill="none" stroke="#a8d0dc" stroke-width="0.6"/>
<path d="M218.0,462.0 C218.7,460.8 220.3,456.7 222.0,455.0 C223.7,453.3 226.0,453.3 228.0,452.0 C230.0,450.7 233.0,447.8 234.0,447.0" fill="none" stroke="#c8a878" stroke-width="0.6"/>
<path d="M218,463.5 Q212,465 210,470 Q208,478 205.5,486" fill="none" stroke="#111" stroke-width="2.2" stroke-linecap="round"/>
<path d="M178,492 Q186,486 192,486 Q198,490 200,484" fill="none" stroke="#d8a070" stroke-width="0.7"/>
<path d="M261.5,411.2 L205.5,491.3 L197.5,501.9 L180.4,514.0 L94.5,576.7 L10.5,616.5" fill="none" stroke="#6ec3c9" stroke-width="0.90"/>
<path d="M261.5,409.8 L205.5,490.8 L197.0,501.1 L179.5,512.5 L155.0,530.8 L93.5,575.0 L67.5,587.8 L6.9,616.5" fill="none" stroke="#9dd9b6" stroke-width="0.90"/>
<path d="M261.5,408.5 L205.3,490.5 L196.5,500.3 L179.0,510.7 L154.0,529.6 L92.5,573.3 L66.5,586.4 L4.0,616.2" fill="none" stroke="#cee8a1" stroke-width="0.90"/>
<path d="M261.5,407.5 L254.9,416.5 L204.9,490.5 L195.9,499.5 L191.5,502.2 L178.0,509.2 L153.0,528.4 L91.5,571.6 L66.0,584.9 L4.0,614.5" fill="none" stroke="#efe595" stroke-width="0.90"/>
<path d="M260.8,407.0 L254.3,416.0 L204.9,490.0 L195.0,498.9 L191.5,500.9 L177.4,507.5 L152.5,526.8 L90.5,569.8 L65.0,583.5 L4.0,612.8" fill="none" stroke="#f8d390" stroke-width="0.90"/>
<path d="M259.7,407.0 L253.6,415.5 L204.5,490.0 L203.5,491.0 L194.0,498.4 L176.5,506.0 L151.5,525.6 L89.5,568.1 L64.5,581.9 L4.0,611.1" fill="none" stroke="#f7c292" stroke-width="0.90"/>
<path d="M258.7,407.0 L253.0,415.1 L203.5,490.5 L193.5,497.5 L191.5,498.5 L176.0,504.2 L150.5,524.4 L88.3,566.5 L63.5,580.6 L4.0,609.4" fill="none" stroke="#f4b9a2" stroke-width="0.90"/>
<path d="M257.7,407.0 L252.1,415.0 L203.5,490.1 L191.0,497.6 L175.0,502.7 L149.8,523.0 L87.0,565.0 L62.9,579.0 L14.5,602.9 L4.0,607.7" fill="none" stroke="#f0c3c2" stroke-width="0.90"/>
<path d="M256.7,407.0 L251.5,414.5 L203.5,489.7 L191.0,496.5 L174.5,500.9 L149.0,521.7 L86.5,563.0 L62.0,577.6 L42.0,587.3 L13.9,601.5 L4.0,606.0" fill="none" stroke="#edd2dc" stroke-width="0.90"/>
<path d="M255.8,407.0 L250.9,414.0 L203.1,489.5 L190.5,495.6 L173.5,499.4 L148.0,520.5 L85.1,561.5 L61.0,576.3 L41.0,585.9 L13.0,600.2 L4.0,604.3" fill="none" stroke="#d9c9d8" stroke-width="0.90"/>
<path d="M254.8,407.0 L250.3,413.5 L203.0,489.4 L190.0,494.6 L173.0,497.5 L147.0,519.3 L60.8,574.5 L40.5,584.4 L12.5,598.8 L4.0,602.7" fill="none" stroke="#969696" stroke-width="0.90"/>
<path d="M254.9,407.0 L250.3,413.5 L203.0,489.4 L190.0,494.7 L173.0,497.6 L147.0,519.4 L61.0,574.5 L40.5,584.5 L12.5,598.9 L4.0,602.8" fill="none" stroke="#7a7a7a" stroke-width="0.70"/>
<path d="M254.5,407.0 L249.6,414.0 L203.0,489.3 L190.0,494.5 L172.5,497.1 L146.5,519.0 L60.5,574.0 L40.0,584.0 L12.0,598.5 L4.0,602.1" fill="none" stroke="#5a5a5a" stroke-width="0.80"/>
<path d="M200.0,503.5 L198.5,502.2 L197.4,503.0 L169.5,542.1 L95.2,577.5 L96.0,579.5" fill="none" stroke="#c3c7ed" stroke-width="0.80"/>
<path d="M200.0,503.4 L198.5,502.2 L197.4,503.0 L168.8,541.4 L95.2,577.4 L95.9,579.5" fill="none" stroke="#c9cdef" stroke-width="0.80"/>
<path d="M200.0,503.4 L198.5,502.2 L197.4,503.0 L168.2,540.6 L95.2,577.4 L95.9,579.5" fill="none" stroke="#d0d4f1" stroke-width="0.80"/>
<path d="M200.0,503.4 L198.5,502.2 L198.0,502.2 L167.5,539.9 L95.2,577.4 L95.9,579.5" fill="none" stroke="#d6daf3" stroke-width="0.80"/>
<path d="M200.0,503.4 L198.5,502.2 L198.0,502.2 L167.0,539.1 L95.2,577.4 L95.2,578.0 L95.9,579.5" fill="none" stroke="#dce0f5" stroke-width="0.80"/>
<path d="M200.0,503.4 L198.5,502.2 L198.0,502.2 L166.2,538.4 L95.2,577.4 L95.2,578.0 L95.9,579.5" fill="none" stroke="#e3e7f7" stroke-width="0.80"/>
<path d="M200.0,503.4 L198.5,502.1 L198.0,502.2 L165.8,537.6 L95.2,577.4 L95.1,578.0 L95.9,579.5" fill="none" stroke="#eceefa" stroke-width="0.80"/>
<path d="M200.0,503.4 L198.5,502.1 L198.0,502.2 L165.0,537.0 L95.2,577.4 L95.1,578.0 L95.9,579.5" fill="none" stroke="#f4f6fc" stroke-width="0.80"/>
<path d="M200.0,503.4 L198.5,502.1 L198.0,502.2 L164.5,536.2 L95.2,577.4 L95.1,578.0 L95.9,579.5" fill="none" stroke="#a6b8e2" stroke-width="0.80"/>
<path d="M200.0,503.4 L198.5,502.1 L198.0,502.2 L163.8,535.5 L95.2,577.4 L95.1,578.0 L95.9,579.5" fill="none" stroke="#577ac8" stroke-width="0.80"/>
<path d="M200.0,503.4 L198.5,502.1 L198.0,502.1 L163.2,534.7 L95.2,577.4 L95.1,578.0 L95.9,579.5" fill="none" stroke="#3b62ba" stroke-width="0.80"/>
<path d="M200.0,503.3 L198.5,502.1 L198.0,502.1 L162.7,534.0 L95.2,577.3 L95.1,578.0 L95.8,579.5" fill="none" stroke="#2951ae" stroke-width="0.80"/>
<path d="M200.0,503.3 L198.5,502.1 L198.0,502.1 L162.0,533.3 L95.2,577.3 L95.1,578.0 L95.8,579.5" fill="none" stroke="#224fab" stroke-width="0.80"/>
<path d="M200.0,503.3 L198.5,502.1 L198.0,502.1 L161.5,532.5 L95.2,577.3 L95.1,578.0 L95.8,579.5" fill="none" stroke="#265cb1" stroke-width="0.80"/>
<path d="M200.0,503.3 L198.5,502.1 L198.0,502.1 L160.8,531.9 L95.2,577.3 L95.1,578.0 L95.8,579.5" fill="none" stroke="#296ab7" stroke-width="0.80"/>
<path d="M200.0,503.3 L198.5,502.0 L198.0,502.1 L160.2,531.1 L95.2,577.3 L95.0,578.0 L95.8,579.5" fill="none" stroke="#2d82bf" stroke-width="0.80"/>
<path d="M200.0,503.3 L198.5,502.0 L198.0,502.1 L139.5,545.2 L95.2,577.3 L95.0,578.0 L95.8,579.5" fill="none" stroke="#309cc7" stroke-width="0.80"/>
<g clip-path="url(#bpBL)"><g mask="url(#sBL)">
<rect x="0" y="0" width="520" height="618" fill="#fff"/>
<path d="M261.5,411.5 L197.9,502.0 L95.0,577.2 L11.7,616.5" fill="none" stroke="#3caeac" stroke-width="1.00"/>
<path d="M261.5,411.2 L205.5,491.3 L197.5,501.9 L180.4,514.0 L94.5,576.7 L10.5,616.5" fill="none" stroke="#54ba84" stroke-width="1.00"/>
<path d="M261.5,410.7 L205.5,491.1 L197.5,501.5 L180.0,513.5 L94.0,576.2 L9.3,616.5" fill="none" stroke="#82cc74" stroke-width="1.00"/>
<path d="M261.5,410.3 L205.5,491.0 L197.0,501.5 L179.8,513.0 L155.5,531.0 L93.9,575.5 L68.0,588.2 L8.1,616.5" fill="none" stroke="#c6e47c" stroke-width="1.00"/>
<path d="M261.5,409.8 L205.5,490.8 L197.0,501.1 L179.5,512.5 L155.0,530.8 L93.5,575.0 L67.5,587.8 L6.9,616.5" fill="none" stroke="#ebe77d" stroke-width="1.00"/>
<path d="M261.5,409.3 L205.5,490.6 L197.0,500.7 L179.2,512.0 L154.5,530.5 L93.0,574.5 L67.0,587.4 L5.7,616.5" fill="none" stroke="#f1d577" stroke-width="1.00"/>
<path d="M261.5,408.9 L205.4,490.5 L196.5,500.7 L179.0,511.4 L154.5,529.8 L93.0,573.7 L67.0,586.8 L4.5,616.5" fill="none" stroke="#f7c371" stroke-width="1.00"/>
<path d="M261.5,408.5 L205.3,490.5 L196.5,500.3 L179.0,510.7 L154.0,529.6 L92.5,573.3 L66.5,586.4 L4.0,616.2" fill="none" stroke="#f7be7c" stroke-width="1.00"/>
<path d="M261.5,408.2 L205.2,490.5 L196.3,500.0 L178.5,510.3 L153.9,529.0 L92.0,572.8 L66.5,585.8 L4.0,615.6" fill="none" stroke="#f6bc8a" stroke-width="1.00"/>
<path d="M261.5,407.8 L255.2,416.5 L205.0,490.5 L196.0,499.8 L178.5,509.6 L153.5,528.7 L91.5,572.3 L66.0,585.5 L4.0,615.0" fill="none" stroke="#f5b999" stroke-width="1.00"/>
<path d="M261.5,407.5 L254.9,416.5 L204.9,490.5 L195.9,499.5 L191.5,502.2 L178.0,509.2 L153.0,528.4 L91.5,571.6 L66.0,584.9 L4.0,614.5" fill="none" stroke="#f4baa4" stroke-width="1.00"/>
<path d="M261.5,407.1 L254.6,416.5 L204.8,490.5 L195.5,499.4 L178.0,508.5 L153.0,527.7 L91.0,571.1 L65.5,584.5 L4.0,613.9" fill="none" stroke="#f4bfac" stroke-width="1.00"/>
<path d="M261.2,407.0 L254.5,416.1 L204.6,490.5 L195.4,499.0 L191.5,501.3 L177.5,508.1 L152.5,527.5 L90.7,570.5 L65.5,583.9 L4.0,613.3" fill="none" stroke="#f4c4b4" stroke-width="1.00"/>
<path d="M260.8,407.0 L254.3,416.0 L204.9,490.0 L195.0,498.9 L191.5,500.9 L177.4,507.5 L152.5,526.8 L90.5,569.8 L65.0,583.5 L4.0,612.8" fill="none" stroke="#f4c9bc" stroke-width="1.00"/>
<path d="M260.4,407.0 L253.9,416.0 L204.7,490.0 L195.0,498.5 L191.5,500.5 L177.0,507.1 L152.0,526.5 L90.0,569.4 L65.0,582.9 L4.0,612.2" fill="none" stroke="#f4cec4" stroke-width="1.00"/>
<path d="M260.0,407.0 L253.6,416.0 L204.6,490.0 L195.0,498.1 L191.0,500.4 L177.0,506.3 L151.9,526.0 L89.5,568.9 L64.5,582.5 L4.0,611.7" fill="none" stroke="#f4d2cc" stroke-width="1.00"/>
<path d="M259.7,407.0 L253.6,415.5 L204.5,490.0 L203.5,491.0 L194.0,498.4 L176.5,506.0 L151.5,525.6 L89.5,568.1 L64.5,581.9 L4.0,611.1" fill="none" stroke="#f3d6d3" stroke-width="1.00"/>
<path d="M259.3,407.0 L253.3,415.5 L204.7,489.5 L203.5,490.8 L194.0,498.0 L192.0,499.1 L176.5,505.3 L151.0,525.3 L89.0,567.7 L64.0,581.5 L4.0,610.5" fill="none" stroke="#f2dada" stroke-width="1.00"/>
<path d="M259.0,407.0 L253.0,415.5 L203.5,490.7 L192.0,498.7 L176.0,504.9 L151.0,524.7 L88.5,567.2 L64.0,580.9 L4.0,610.0" fill="none" stroke="#f1dee1" stroke-width="1.00"/>
<path d="M258.7,407.0 L253.0,415.1 L203.5,490.5 L193.5,497.5 L191.5,498.5 L176.0,504.2 L150.5,524.4 L88.3,566.5 L63.5,580.6 L4.0,609.4" fill="none" stroke="#f0e2e8" stroke-width="1.00"/>
</g></g>
<g clip-path="url(#bpBL)"><g mask="url(#zmBL0)">
<path d="M261.5,410.9 L205.5,491.2 L197.5,501.7 L180.0,513.9 L94.5,576.3 L9.9,616.5" fill="none" stroke="#80c6ba" stroke-width="0.90"/>
<path d="M261.5,409.1 L205.5,490.5 L196.5,500.9 L179.0,511.8 L154.5,530.2 L93.0,574.1 L67.0,587.1 L5.1,616.5" fill="none" stroke="#a0d3ad" stroke-width="0.90"/>
<path d="M261.5,407.6 L255.0,416.5 L205.0,490.5 L196.0,499.6 L178.1,509.5 L153.5,528.3 L91.5,571.9 L66.0,585.2 L4.0,614.8" fill="none" stroke="#c0e0a0" stroke-width="0.90"/>
<path d="M260.6,407.0 L254.1,416.0 L204.8,490.0 L195.0,498.7 L191.5,500.7 L177.0,507.4 L152.0,526.9 L90.0,569.7 L65.0,583.2 L4.0,612.5" fill="none" stroke="#cdda9d" stroke-width="0.90"/>
<path d="M259.2,407.0 L253.2,415.5 L203.5,490.8 L194.0,497.8 L192.0,498.9 L176.0,505.2 L151.0,525.0 L89.0,567.3 L64.0,581.2 L4.0,610.2" fill="none" stroke="#dad39a" stroke-width="0.90"/>
<path d="M257.9,407.0 L252.3,415.0 L203.5,490.2 L191.0,497.8 L175.1,503.0 L150.0,523.2 L87.5,565.1 L63.0,579.3 L14.5,603.2 L4.0,608.0" fill="none" stroke="#d6c58e" stroke-width="0.90"/>
<path d="M256.6,407.0 L251.5,414.2 L203.5,489.6 L190.5,496.5 L174.5,500.5 L148.5,521.7 L86.0,562.9 L62.0,577.3 L41.9,587.0 L13.5,601.4 L4.0,605.7" fill="none" stroke="#c3b07b" stroke-width="0.90"/>
<path d="M255.3,407.0 L250.5,413.9 L203.0,489.5 L190.5,495.0 L173.2,498.5 L147.4,520.0 L85.0,560.4 L61.5,575.0 L40.5,585.3 L13.0,599.4 L4.0,603.5" fill="none" stroke="#b09a68" stroke-width="0.90"/>
</g></g>
<path d="M76.0,586.3 Q76.1,579.4 84.2,568.5" fill="none" stroke="#3d7a68" stroke-width="0.70"/>
<path d="M92.5,578.5 Q91.5,570.9 98.5,559.2" fill="none" stroke="#3d7a68" stroke-width="0.70"/>
<path d="M126.2,554.5 Q123.2,551.8 128.1,545.0" fill="none" stroke="#3d7a68" stroke-width="0.70"/>
</g></g>
<path d="M12.0,598.0 C16.7,595.6 32.0,587.5 40.0,583.5 C48.0,579.5 51.7,578.6 60.0,573.8 C68.3,569.0 78.3,562.1 90.0,554.6 C101.7,547.1 120.6,535.0 130.0,529.0 C139.4,523.0 141.3,522.3 146.5,518.5 C151.7,514.7 156.9,509.7 161.2,506.0 C165.5,502.3 170.6,498.1 172.5,496.5" fill="none" stroke="#666" stroke-width="0.9"/>
<path d="M172.5,496 Q180,493 190,493.5 Q198,493 204,490" fill="none" stroke="#444" stroke-width="0.9"/>
<polyline points="28.8,608.8 169.8,542.5 262.8,410.0" fill="none" stroke="#111" stroke-width="1.3" stroke-linejoin="miter"/>
<path d="M172.5,496.5 C172.4,495.8 172.1,495.2 172.2,492.5 C172.3,489.8 172.6,484.6 173.0,480.0 C173.4,475.4 173.8,471.7 174.5,465.0 C175.2,458.3 176.0,448.3 177.0,440.0 C178.0,431.7 179.9,420.3 180.7,415.0 C181.5,409.7 181.8,409.2 182.0,408.0" fill="none" stroke="#000" stroke-width="2.2" stroke-linecap="round"/>
</g>
<rect x="17.0" y="417.5" width="68.5" height="83.8" fill="#fff" stroke="#707070" stroke-width="0.8"/>
<rect x="19.5" y="427.5" width="24.3" height="71.3" fill="url(#spec)"/>
<text x="19.2" y="423.2" class="lt">Var: Streamlines - Speed</text>
<line x1="43.8" y1="427.5" x2="48.8" y2="427.5" stroke="#777" stroke-width="0.6"/>
<text x="51.4" y="428.7" class="cl">1.209e+04</text>
<line x1="43.8" y1="445.3" x2="48.8" y2="445.3" stroke="#777" stroke-width="0.6"/>
<text x="51.4" y="446.5" class="cl">9069.</text>
<line x1="43.8" y1="463.1" x2="48.8" y2="463.1" stroke="#777" stroke-width="0.6"/>
<text x="51.4" y="464.3" class="cl">6048.</text>
<line x1="43.8" y1="481.0" x2="48.8" y2="481.0" stroke="#777" stroke-width="0.6"/>
<text x="51.4" y="482.2" class="cl">3027.</text>
<line x1="43.8" y1="498.8" x2="48.8" y2="498.8" stroke="#777" stroke-width="0.6"/>
<text x="51.4" y="500.0" class="cl">5.579</text>
<text x="98.9" y="465.2" class="ann" style="font-size:9.6px">Separation</text>
<text x="110.2" y="476.7" class="ann" style="font-size:9.6px">shock</text>
<line x1="128.5" y1="481.5" x2="147.2" y2="510.0" stroke="#111" stroke-width="1.1"/><polygon points="150.5,515.0 144.5,510.6 148.8,507.7" fill="#111"/>
<text x="172.1" y="577.8" class="ann" style="font-size:11.2px">B<tspan dy="2.6" style="font-size:7.7px">max</tspan><tspan dy="-2.6"> = 2.25 T</tspan></text>
<text x="161.5" y="596.2" class="ann" style="font-size:11.2px">Z<tspan dy="2.6" style="font-size:7.7px">dist</tspan><tspan dy="-2.6"> = 19.5 mm</tspan></text>
<clipPath id="bBR"><polygon points="255.0,604.0 275.0,604.0 390.0,541.7 437.7,513.7 444.0,509.5 442.5,506.0 444.6,485.8 447.3,470.0 452.0,455.0 460.0,435.0 467.5,415.0 470.0,408.0 470.0,395.5 538.5,395.5 538.5,630.0 255.0,630.0"/></clipPath>
<clipPath id="bpBR"><polygon points="260.0,624.5 385.0,566.6 441.5,532.0 525.4,410.0 530.0,395.0 520.0,410.0 455.0,503.0 447.3,508.8 437.7,513.7 390.0,541.7 275.0,604.0 260.0,612.2"/></clipPath>
<clipPath id="fBR"><polygon points="260.0,624.5 433.0,544.3 525.4,410.0 548.5,380.0 548.5,375.5 235.0,375.5 235.0,624.5"/></clipPath>
<filter id="sbBR" x="-20%" y="-20%" width="140%" height="140%"><feGaussianBlur stdDeviation="1.6"/></filter>
<mask id="sBR" maskUnits="userSpaceOnUse" x="0" y="0" width="520" height="618"><polygon points="360.0,585.0 372.0,566.0 400.0,546.0 430.0,528.0 446.0,514.0 452.0,520.0 440.0,545.0 400.0,575.0 370.0,595.0" fill="#fff" filter="url(#sbBR)"/></mask>
<linearGradient id="zgBR0" gradientUnits="userSpaceOnUse" x1="446.0" y1="512.0" x2="456.0" y2="502.0"><stop offset="0" stop-color="#000"/><stop offset="1" stop-color="#fff"/></linearGradient>
<mask id="zmBR0" maskUnits="userSpaceOnUse" x="0" y="0" width="520" height="618"><rect x="0" y="0" width="520" height="618" fill="url(#zgBR0)"/></mask>
<clipPath id="cBR"><rect x="275.0" y="415.5" width="243.5" height="194.5"/></clipPath>
<rect x="275.0" y="415.5" width="243.5" height="194.5" fill="none" stroke="#c8c8c8" stroke-width="0.8"/>
<text x="274.4" y="428.9" class="tk" text-anchor="end">5.5</text>
<line x1="273.0" y1="427.0" x2="275.0" y2="427.0" stroke="#b0b0b0" stroke-width="0.6"/>
<text x="274.4" y="455.2" class="tk" text-anchor="end">5.0</text>
<line x1="273.0" y1="453.3" x2="275.0" y2="453.3" stroke="#b0b0b0" stroke-width="0.6"/>
<text x="274.4" y="481.9" class="tk" text-anchor="end">4.5</text>
<line x1="273.0" y1="480.0" x2="275.0" y2="480.0" stroke="#b0b0b0" stroke-width="0.6"/>
<text x="274.4" y="508.5" class="tk" text-anchor="end">4.0</text>
<line x1="273.0" y1="506.6" x2="275.0" y2="506.6" stroke="#b0b0b0" stroke-width="0.6"/>
<text x="274.4" y="534.5" class="tk" text-anchor="end">3.5</text>
<line x1="273.0" y1="532.6" x2="275.0" y2="532.6" stroke="#b0b0b0" stroke-width="0.6"/>
<text x="274.4" y="560.5" class="tk" text-anchor="end">3.0</text>
<line x1="273.0" y1="558.6" x2="275.0" y2="558.6" stroke="#b0b0b0" stroke-width="0.6"/>
<text x="274.4" y="587.8" class="tk" text-anchor="end">2.5</text>
<line x1="273.0" y1="585.9" x2="275.0" y2="585.9" stroke="#b0b0b0" stroke-width="0.6"/>
<text x="312.6" y="617.3" class="tk" text-anchor="middle">-9.0</text>
<text x="365.3" y="617.3" class="tk" text-anchor="middle">-8.0</text>
<text x="418.7" y="617.3" class="tk" text-anchor="middle">-7.0</text>
<text x="470.7" y="617.3" class="tk" text-anchor="middle">-6.0</text>
<g clip-path="url(#cBR)">
<line x1="275.0" y1="435.2" x2="459.9" y2="435.2" stroke="#c09ca8" stroke-width="0.95"/>
<line x1="275.0" y1="461.0" x2="450.1" y2="461.0" stroke="#c09ca8" stroke-width="0.95"/>
<line x1="275.0" y1="485.8" x2="444.6" y2="485.8" stroke="#c09ca8" stroke-width="0.95"/>
<line x1="275.0" y1="511.7" x2="440.7" y2="511.7" stroke="#c09ca8" stroke-width="0.95"/>
<line x1="275.0" y1="536.0" x2="399.7" y2="536.0" stroke="#c09ca8" stroke-width="0.95"/>
<line x1="275.0" y1="562.0" x2="352.5" y2="562.0" stroke="#c09ca8" stroke-width="0.95"/>
<line x1="275.0" y1="587.2" x2="306.0" y2="587.2" stroke="#c09ca8" stroke-width="0.95"/>
<g clip-path="url(#fBR)"><g clip-path="url(#bBR)">
<polygon points="468,412 442.5,506 455,503 525,410" fill="#ffffff"/>
<polygon points="468.5,485.6 526.7,401.0 513.5,391.9 457.0,477.7" fill="#fcf3d8" opacity="0.90"/>
<polygon points="468.8,479.9 518.8,405.5 513.9,402.1 464.7,477.1" fill="#f0c888" opacity="0.80"/>
<path d="M472.0,478.0 C471.3,476.7 467.7,473.3 468.0,470.0 C468.3,466.7 471.0,462.7 474.0,458.0 C477.0,453.3 482.3,447.0 486.0,442.0 C489.7,437.0 492.7,432.0 496.0,428.0 C499.3,424.0 504.3,419.7 506.0,418.0" fill="none" stroke="#c0a060" stroke-width="0.6"/>
<path d="M479.6,414.0 C480.0,416.6 482.6,424.0 482.2,429.5 C481.8,435.0 479.9,441.8 477.0,447.0 C474.1,452.2 467.0,457.2 464.7,461.0 C462.4,464.8 462.8,467.2 463.0,469.7 C463.2,472.2 465.5,474.9 466.0,476.0" fill="none" stroke="#999" stroke-width="0.7"/>
<path d="M452.5,456.6 C453.4,456.8 456.2,457.3 458.0,458.0 C459.8,458.7 462.2,460.5 463.0,461.0" fill="none" stroke="#999" stroke-width="0.7"/>
<path d="M473.5,414.0 C471.6,418.3 465.6,431.7 462.0,440.0 C458.4,448.3 454.5,456.4 452.0,464.0 C449.5,471.6 448.0,481.8 447.2,485.4" fill="none" stroke="#a8cce0" stroke-width="0.6"/>
<path d="M490.0,414.0 C488.0,418.3 481.7,432.0 478.0,440.0 C474.3,448.0 471.0,455.3 468.0,462.0 C465.0,468.7 461.3,477.0 460.0,480.0" fill="none" stroke="#a8cce0" stroke-width="0.6"/>
<path d="M526.0,408.3 L525.6,409.5 L459.0,506.1 L440.8,531.5 L384.5,565.9 L273.8,617.5" fill="none" stroke="#6ec3c9" stroke-width="0.90"/>
<path d="M526.0,408.2 L458.5,506.0 L439.5,530.4 L383.5,564.4 L271.4,617.5" fill="none" stroke="#9dd9b6" stroke-width="0.90"/>
<path d="M526.0,408.1 L524.5,409.5 L458.0,505.9 L438.7,529.0 L383.0,562.7 L268.9,617.5" fill="none" stroke="#cee8a1" stroke-width="0.90"/>
<path d="M526.0,408.0 L524.0,409.5 L457.7,505.5 L450.5,514.0 L437.5,527.9 L382.0,561.2 L267.0,617.3" fill="none" stroke="#efe595" stroke-width="0.90"/>
<path d="M526.0,407.6 L523.9,409.0 L457.5,505.0 L450.0,513.3 L436.5,526.6 L381.0,559.8 L267.0,616.1" fill="none" stroke="#f8d390" stroke-width="0.90"/>
<path d="M524.8,407.5 L523.5,408.8 L457.0,504.8 L449.5,512.7 L435.5,525.3 L380.5,558.0 L267.0,615.0" fill="none" stroke="#f7c292" stroke-width="0.90"/>
<path d="M524.1,407.5 L456.6,504.5 L449.0,512.0 L434.5,524.0 L394.0,548.3 L379.5,556.6 L267.0,613.8" fill="none" stroke="#f4b9a2" stroke-width="0.90"/>
<path d="M523.5,407.5 L456.5,503.9 L448.5,511.4 L433.0,523.1 L393.0,547.0 L379.0,554.9 L267.0,612.7" fill="none" stroke="#f0c3c2" stroke-width="0.90"/>
<path d="M523.0,407.5 L456.2,503.5 L448.5,510.4 L431.8,522.0 L392.2,545.5 L378.0,553.4 L267.0,611.5" fill="none" stroke="#edd2dc" stroke-width="0.90"/>
<path d="M522.5,407.5 L455.6,503.5 L448.0,509.8 L430.5,520.9 L391.0,544.2 L267.0,610.3" fill="none" stroke="#d9c9d8" stroke-width="0.90"/>
<path d="M522.0,407.5 L455.0,503.5 L447.5,509.2 L438.0,514.4 L390.5,542.6 L267.0,609.1" fill="none" stroke="#969696" stroke-width="0.90"/>
<path d="M522.0,407.5 L455.0,503.5 L447.5,509.3 L438.0,514.5 L390.5,542.7 L267.0,609.2" fill="none" stroke="#7a7a7a" stroke-width="0.70"/>
<path d="M521.9,407.5 L455.0,503.4 L447.5,509.0 L437.9,514.0 L390.0,542.2 L267.0,608.7" fill="none" stroke="#5a5a5a" stroke-width="0.80"/>
<path d="M443.2,533.2 L441.8,532.2 L440.9,532.8 L432.8,544.1 L385.2,566.5 L386.0,568.5" fill="none" stroke="#abace2" stroke-width="0.80"/>
<path d="M443.2,533.2 L441.4,532.2 L432.2,543.7 L385.2,566.4 L385.9,568.5" fill="none" stroke="#b0b4e6" stroke-width="0.80"/>
<path d="M443.2,533.2 L441.8,532.2 L441.3,532.2 L432.0,543.1 L385.2,566.4 L385.2,567.0 L385.9,568.5" fill="none" stroke="#b5bcea" stroke-width="0.80"/>
<path d="M443.2,533.2 L441.8,532.2 L441.3,532.2 L431.5,542.7 L385.2,566.4 L385.2,567.0 L385.9,568.5" fill="none" stroke="#a3b0e5" stroke-width="0.80"/>
<path d="M443.2,533.1 L441.8,532.1 L441.2,532.2 L431.0,542.2 L385.2,566.4 L385.1,567.0 L385.9,568.5" fill="none" stroke="#7a90d6" stroke-width="0.80"/>
<path d="M443.2,533.1 L441.8,532.1 L441.2,532.2 L430.8,541.7 L385.2,566.4 L385.1,567.0 L385.9,568.5" fill="none" stroke="#5070c8" stroke-width="0.80"/>
<path d="M443.2,533.1 L441.8,532.1 L441.2,532.2 L430.4,541.2 L385.2,566.3 L385.1,567.0 L385.8,568.5" fill="none" stroke="#4063be" stroke-width="0.80"/>
<path d="M443.2,533.1 L441.8,532.1 L441.2,532.1 L430.0,540.8 L385.2,566.3 L385.1,567.0 L385.8,568.5" fill="none" stroke="#3056b5" stroke-width="0.80"/>
<path d="M443.2,533.1 L441.8,532.1 L441.2,532.1 L429.5,540.4 L385.2,566.3 L385.1,567.0 L385.8,568.5" fill="none" stroke="#2d58b4" stroke-width="0.80"/>
<path d="M443.2,533.0 L441.8,532.0 L441.2,532.1 L429.2,539.8 L385.2,566.3 L385.0,567.0 L385.8,568.5" fill="none" stroke="#3768bc" stroke-width="0.80"/>
<g clip-path="url(#bpBR)"><g mask="url(#sBR)">
<rect x="0" y="0" width="520" height="618" fill="#fff"/>
<path d="M526.0,408.3 L525.0,410.5 L458.0,507.9 L441.0,532.0 L385.0,566.3 L308.2,602.0 L307.5,602.0 L287.7,611.5 L287.0,611.6 L274.8,617.5" fill="none" stroke="#2d63ba" stroke-width="1.10"/>
<path d="M526.0,408.3 L525.6,409.5 L459.0,506.2 L441.0,531.6 L384.5,566.1 L274.2,617.5" fill="none" stroke="#3472bf" stroke-width="1.10"/>
<path d="M526.0,408.3 L525.6,409.5 L459.0,506.0 L440.5,531.5 L384.5,565.6 L273.6,617.5" fill="none" stroke="#3a81c3" stroke-width="1.10"/>
<path d="M526.0,408.2 L525.5,409.5 L458.9,506.0 L440.5,531.0 L384.0,565.4 L273.0,617.5" fill="none" stroke="#4393c4" stroke-width="1.10"/>
<path d="M526.0,408.2 L525.5,409.5 L524.9,410.0 L458.5,506.3 L440.0,530.9 L384.0,564.9 L272.3,617.5" fill="none" stroke="#4ca6c4" stroke-width="1.10"/>
<path d="M526.0,408.2 L525.5,409.4 L524.7,410.0 L458.5,506.1 L440.0,530.4 L383.9,564.5 L271.7,617.5" fill="none" stroke="#63babc" stroke-width="1.10"/>
<path d="M526.0,408.2 L458.5,505.9 L439.5,530.3 L383.5,564.2 L271.1,617.5" fill="none" stroke="#8acdac" stroke-width="1.10"/>
<path d="M526.0,408.2 L458.5,505.7 L439.5,529.7 L383.5,563.7 L270.5,617.5" fill="none" stroke="#aedd9f" stroke-width="1.10"/>
<path d="M526.0,408.1 L524.5,409.8 L458.2,506.0 L439.0,529.6 L383.0,563.5 L270.0,617.5" fill="none" stroke="#c8e19c" stroke-width="1.10"/>
<path d="M526.0,408.1 L524.5,409.7 L458.4,505.5 L439.0,529.1 L383.0,563.0 L269.4,617.5" fill="none" stroke="#e3e699" stroke-width="1.10"/>
<path d="M526.0,408.1 L524.5,409.5 L458.0,505.8 L451.0,514.6 L438.5,529.0 L383.0,562.5 L268.8,617.5" fill="none" stroke="#f1e395" stroke-width="1.10"/>
<path d="M526.0,408.1 L524.4,409.5 L458.0,505.6 L451.0,514.3 L438.5,528.5 L382.5,562.3 L268.2,617.5" fill="none" stroke="#f3d88e" stroke-width="1.10"/>
<path d="M526.0,408.1 L524.2,409.5 L457.9,505.5 L450.5,514.5 L438.0,528.4 L382.5,561.8 L267.6,617.5" fill="none" stroke="#f6cc88" stroke-width="1.10"/>
<path d="M526.0,408.0 L524.1,409.5 L457.8,505.5 L450.5,514.2 L437.9,528.0 L382.2,561.5 L267.0,617.5" fill="none" stroke="#f8c281" stroke-width="1.10"/>
<path d="M526.0,408.0 L524.0,409.5 L457.6,505.5 L450.5,513.9 L437.5,527.8 L382.0,561.1 L267.0,617.2" fill="none" stroke="#f7ba7e" stroke-width="1.10"/>
<path d="M526.0,408.0 L525.0,408.4 L524.0,409.3 L457.5,505.5 L450.5,513.6 L437.2,527.5 L382.0,560.6 L267.0,617.0" fill="none" stroke="#f6b47c" stroke-width="1.10"/>
<path d="M526.0,407.9 L525.0,408.2 L524.0,409.2 L457.5,505.3 L450.3,513.5 L437.0,527.2 L381.5,560.4 L267.0,616.7" fill="none" stroke="#f5ad7a" stroke-width="1.10"/>
<path d="M526.0,407.7 L524.0,409.0 L457.5,505.1 L450.0,513.6 L436.6,527.0 L381.5,559.9 L267.0,616.4" fill="none" stroke="#f4a97a" stroke-width="1.10"/>
<path d="M526.0,407.6 L523.9,409.0 L457.4,505.0 L450.0,513.3 L436.5,526.6 L381.0,559.7 L267.0,616.1" fill="none" stroke="#f3ac83" stroke-width="1.10"/>
<path d="M525.7,407.5 L523.7,409.0 L457.3,505.0 L450.0,513.0 L436.0,526.4 L381.0,559.2 L267.0,615.8" fill="none" stroke="#f3b08c" stroke-width="1.10"/>
<path d="M525.3,407.5 L523.6,409.0 L457.1,505.0 L450.0,512.7 L435.9,526.0 L381.0,558.7 L267.0,615.6" fill="none" stroke="#f3b394" stroke-width="1.10"/>
<path d="M525.1,407.5 L523.5,409.0 L457.0,505.0 L449.5,512.9 L435.5,525.8 L380.5,558.5 L267.0,615.3" fill="none" stroke="#f2b79d" stroke-width="1.10"/>
<path d="M524.8,407.5 L523.5,408.8 L457.0,504.8 L449.5,512.7 L435.5,525.3 L380.5,558.0 L267.0,615.0" fill="none" stroke="#f2baa5" stroke-width="1.10"/>
<path d="M524.6,407.5 L523.5,408.7 L457.0,504.6 L449.5,512.4 L435.0,525.2 L380.0,557.8 L267.0,614.7" fill="none" stroke="#f1bdac" stroke-width="1.10"/>
<path d="M524.4,407.5 L456.9,504.5 L449.5,512.1 L435.0,524.7 L380.0,557.3 L267.0,614.4" fill="none" stroke="#f1c0b4" stroke-width="1.10"/>
<path d="M524.3,407.5 L456.8,504.5 L449.3,512.0 L434.6,524.5 L379.7,557.0 L267.0,614.1" fill="none" stroke="#f1c3bb" stroke-width="1.10"/>
<path d="M524.1,407.5 L456.6,504.5 L449.1,512.0 L434.5,524.1 L394.0,548.4 L379.5,556.6 L267.0,613.9" fill="none" stroke="#f0c6c2" stroke-width="1.10"/>
<path d="M523.9,407.5 L456.5,504.5 L449.0,511.8 L434.0,524.0 L393.8,548.0 L379.5,556.1 L267.0,613.6" fill="none" stroke="#f0c9c9" stroke-width="1.10"/>
<path d="M523.8,407.5 L456.7,504.0 L449.0,511.5 L433.5,523.8 L393.5,547.7 L379.5,555.6 L267.0,613.3" fill="none" stroke="#efccce" stroke-width="1.10"/>
<path d="M523.7,407.5 L456.6,504.0 L448.7,511.5 L433.3,523.5 L393.5,547.2 L379.0,555.4 L267.0,613.0" fill="none" stroke="#eecfd3" stroke-width="1.10"/>
<path d="M523.5,407.5 L456.5,503.9 L448.5,511.4 L433.0,523.2 L393.0,547.0 L379.0,554.9 L267.0,612.7" fill="none" stroke="#eed1d9" stroke-width="1.10"/>
<path d="M523.4,407.5 L456.5,503.7 L448.5,511.2 L432.6,523.0 L393.0,546.6 L378.9,554.5 L267.0,612.4" fill="none" stroke="#edd4de" stroke-width="1.10"/>
<path d="M523.3,407.5 L456.5,503.5 L448.5,510.9 L432.5,522.6 L392.5,546.4 L378.5,554.2 L267.0,612.1" fill="none" stroke="#ecd7e3" stroke-width="1.10"/>
</g></g>
<g clip-path="url(#bpBR)"><g mask="url(#zmBR0)">
<rect x="0" y="0" width="520" height="618" fill="#ffffff"/>
<path d="M526.0,408.2 L525.5,409.5 L524.9,410.0 L458.5,506.3 L440.0,530.8 L384.0,564.9 L272.3,617.5" fill="none" stroke="#a5d8c0" stroke-width="0.80"/>
<path d="M526.0,408.0 L524.1,409.5 L457.8,505.5 L450.5,514.2 L437.8,528.0 L382.1,561.5 L267.0,617.5" fill="none" stroke="#d0e8b0" stroke-width="0.80"/>
<path d="M524.8,407.5 L523.5,408.8 L457.0,504.8 L449.5,512.6 L435.5,525.2 L380.5,557.9 L267.0,614.9" fill="none" stroke="#e4e3ab" stroke-width="0.80"/>
<path d="M523.3,407.5 L456.5,503.6 L448.5,511.1 L432.5,522.9 L393.0,546.4 L378.6,554.5 L267.0,612.3" fill="none" stroke="#e4d49e" stroke-width="0.80"/>
<path d="M522.2,407.5 L455.5,503.2 L448.0,509.3 L390.6,543.5 L267.0,609.7" fill="none" stroke="#d2bc8a" stroke-width="0.80"/>
</g></g>
<path d="M360.0,578.0 Q357.8,575.7 363.6,569.5" fill="none" stroke="#3d7a68" stroke-width="0.70"/>
<path d="M393.8,561.0 Q391.1,558.5 396.5,551.9" fill="none" stroke="#3d7a68" stroke-width="0.70"/>
</g></g>
<path d="M442.5,506 Q443,509 447.3,508.8 L455,503" fill="none" stroke="#333" stroke-width="1.2"/>
<path d="M465,490 Q460,496 456,503 Q452,509 449,513 Q452,506 455,500 Q459,493 465,490 Z" fill="#1a1a1a" stroke="#1a1a1a" stroke-width="2.2" stroke-linejoin="round"/>
<path d="M466,486 Q462,490 460,494" fill="none" stroke="#444" stroke-width="1.2"/>
<polyline points="291.3,610.0 433.0,544.3 525.4,410.0" fill="none" stroke="#111" stroke-width="1.3" stroke-linejoin="miter"/>
<path d="M442.5,506.0 C442.9,502.6 443.8,491.8 444.6,485.8 C445.4,479.8 446.1,475.1 447.3,470.0 C448.5,464.9 449.9,460.8 452.0,455.0 C454.1,449.2 457.4,441.7 460.0,435.0 C462.6,428.3 465.8,419.5 467.5,415.0 C469.2,410.5 469.6,409.2 470.0,408.0" fill="none" stroke="#000" stroke-width="1.5" stroke-linecap="round"/>
</g>
<rect x="279.5" y="418.0" width="68.5" height="84.5" fill="#fff" stroke="#707070" stroke-width="0.8"/>
<rect x="282.0" y="428.0" width="24.3" height="71.5" fill="url(#spec)"/>
<text x="281.7" y="423.7" class="lt">Var: Streamlines - Speed</text>
<line x1="306.3" y1="428.0" x2="311.3" y2="428.0" stroke="#777" stroke-width="0.6"/>
<text x="313.9" y="429.2" class="cl">1.209e+04</text>
<line x1="306.3" y1="445.9" x2="311.3" y2="445.9" stroke="#777" stroke-width="0.6"/>
<text x="313.9" y="447.1" class="cl">9083.</text>
<line x1="306.3" y1="463.8" x2="311.3" y2="463.8" stroke="#777" stroke-width="0.6"/>
<text x="313.9" y="464.9" class="cl">6076.</text>
<line x1="306.3" y1="481.6" x2="311.3" y2="481.6" stroke="#777" stroke-width="0.6"/>
<text x="313.9" y="482.8" class="cl">3070.</text>
<line x1="306.3" y1="499.5" x2="311.3" y2="499.5" stroke="#777" stroke-width="0.6"/>
<text x="313.9" y="500.7" class="cl">63.18</text>
<text x="361.5" y="496.8" class="ann" style="font-size:9.6px">Separation</text>
<text x="371.9" y="507.9" class="ann" style="font-size:9.6px">region</text>
<line x1="399.6" y1="512.3" x2="418.8" y2="535.0" stroke="#111" stroke-width="1.4"/><polygon points="423.0,540.0 416.0,536.1 420.3,532.5" fill="#111"/>
<text x="437.4" y="579.7" class="ann" style="font-size:11.3px">B<tspan dy="2.7" style="font-size:7.8px">max</tspan><tspan dy="-2.7"> = 2.25 T</tspan></text>
<text x="427.2" y="597.1" class="ann" style="font-size:11.3px">Z<tspan dy="2.7" style="font-size:7.8px">dist</tspan><tspan dy="-2.7"> = 30.0 mm</tspan></text>
</svg></body></html>
